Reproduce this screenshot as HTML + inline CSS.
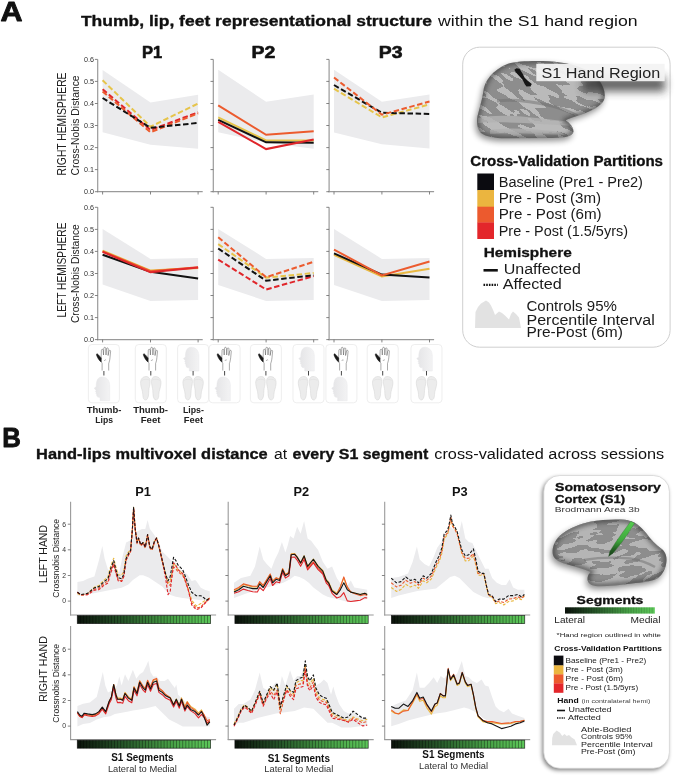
<!DOCTYPE html>
<html><head><meta charset="utf-8"><style>
html,body{margin:0;padding:0;background:#fff;}
body{width:685px;height:776px;overflow:hidden;font-family:"Liberation Sans", sans-serif;}
svg{display:block;will-change:transform;}
svg text{font-family:"Liberation Sans", sans-serif;}
</style></head><body>
<svg width="685" height="776" viewBox="0 0 685 776">
<rect width="685" height="776" fill="#fff"/>
<text x="0.6" y="21.0" font-size="28" font-weight="bold" text-anchor="start" fill="#111" stroke="#111" stroke-width="0.9" stroke-linejoin="round" textLength="22.0" lengthAdjust="spacingAndGlyphs" >A</text>
<text x="80.9" y="25.9" font-size="15.2" font-weight="bold" text-anchor="start" fill="#111" stroke="#111" stroke-width="0.35" stroke-linejoin="round" textLength="351.2" lengthAdjust="spacingAndGlyphs" >Thumb, lip, feet representational structure</text>
<text x="438.0" y="25.9" font-size="15.5" font-weight="normal" text-anchor="start" fill="#111" textLength="199.6" lengthAdjust="spacingAndGlyphs" >within the S1 hand region</text>
<text x="152.1" y="57.9" font-size="16.8" font-weight="bold" text-anchor="middle" fill="#111" stroke="#111" stroke-width="0.6" stroke-linejoin="round" textLength="20.2" lengthAdjust="spacingAndGlyphs" >P1</text>
<text x="263.4" y="57.9" font-size="16.8" font-weight="bold" text-anchor="middle" fill="#111" stroke="#111" stroke-width="0.6" stroke-linejoin="round" textLength="23.8" lengthAdjust="spacingAndGlyphs" >P2</text>
<text x="390.7" y="57.9" font-size="16.8" font-weight="bold" text-anchor="middle" fill="#111" stroke="#111" stroke-width="0.6" stroke-linejoin="round" textLength="23.7" lengthAdjust="spacingAndGlyphs" >P3</text>
<polygon points="102.6,70.0 150.5,102.4 198.1,94.7 198.1,148.7 150.5,144.7 102.6,132.2" fill="#ebebed"/>
<polyline points="102.6,80.3 150.5,126.7 198.1,103.5" fill="none" stroke="#e6c44a" stroke-width="2" stroke-dasharray="5.5 2.6"/>
<polyline points="102.6,89.2 150.5,130.0 198.1,112.3" fill="none" stroke="#e0262b" stroke-width="2" stroke-dasharray="5.5 2.6"/>
<polyline points="102.6,91.4 150.5,132.2 198.1,113.4" fill="none" stroke="#ec5b2e" stroke-width="2" stroke-dasharray="5.5 2.6"/>
<polyline points="102.6,98.0 150.5,127.8 198.1,122.9" fill="none" stroke="#111111" stroke-width="2" stroke-dasharray="5.5 2.6"/>
<line x1="97.7" y1="59.4" x2="97.7" y2="192.3" stroke="#9a9a9a" stroke-width="1.2"/>
<line x1="97.1" y1="191.7" x2="202.7" y2="191.7" stroke="#9a9a9a" stroke-width="1.2"/>
<line x1="94.9" y1="191.7" x2="97.7" y2="191.7" stroke="#666" stroke-width="0.8"/>
<text x="93.9" y="194.3" font-size="7.5" font-weight="normal" text-anchor="end" fill="#333" textLength="10.0" lengthAdjust="spacingAndGlyphs" >0.0</text>
<line x1="94.9" y1="169.6" x2="97.7" y2="169.6" stroke="#666" stroke-width="0.8"/>
<text x="93.9" y="172.2" font-size="7.5" font-weight="normal" text-anchor="end" fill="#333" textLength="10.0" lengthAdjust="spacingAndGlyphs" >0.1</text>
<line x1="94.9" y1="147.6" x2="97.7" y2="147.6" stroke="#666" stroke-width="0.8"/>
<text x="93.9" y="150.2" font-size="7.5" font-weight="normal" text-anchor="end" fill="#333" textLength="10.0" lengthAdjust="spacingAndGlyphs" >0.2</text>
<line x1="94.9" y1="125.5" x2="97.7" y2="125.5" stroke="#666" stroke-width="0.8"/>
<text x="93.9" y="128.2" font-size="7.5" font-weight="normal" text-anchor="end" fill="#333" textLength="10.0" lengthAdjust="spacingAndGlyphs" >0.3</text>
<line x1="94.9" y1="103.5" x2="97.7" y2="103.5" stroke="#666" stroke-width="0.8"/>
<text x="93.9" y="106.1" font-size="7.5" font-weight="normal" text-anchor="end" fill="#333" textLength="10.0" lengthAdjust="spacingAndGlyphs" >0.4</text>
<line x1="94.9" y1="81.4" x2="97.7" y2="81.4" stroke="#666" stroke-width="0.8"/>
<text x="93.9" y="84.0" font-size="7.5" font-weight="normal" text-anchor="end" fill="#333" textLength="10.0" lengthAdjust="spacingAndGlyphs" >0.5</text>
<line x1="94.9" y1="59.4" x2="97.7" y2="59.4" stroke="#666" stroke-width="0.8"/>
<text x="93.9" y="62.0" font-size="7.5" font-weight="normal" text-anchor="end" fill="#333" textLength="10.0" lengthAdjust="spacingAndGlyphs" >0.6</text>
<line x1="102.6" y1="191.7" x2="102.6" y2="194.5" stroke="#666" stroke-width="0.8"/>
<line x1="150.5" y1="191.7" x2="150.5" y2="194.5" stroke="#666" stroke-width="0.8"/>
<line x1="198.1" y1="191.7" x2="198.1" y2="194.5" stroke="#666" stroke-width="0.8"/>
<polygon points="218.2,69.8 266.1,101.7 313.7,94.5 313.7,148.7 266.1,142.7 218.2,132.2" fill="#ebebed"/>
<polyline points="218.2,105.3 266.1,134.8 313.7,131.3" fill="none" stroke="#ec5b2e" stroke-width="2"/>
<polyline points="218.2,117.4 266.1,140.5 313.7,140.5" fill="none" stroke="#e6c44a" stroke-width="2"/>
<polyline points="218.2,119.8 266.1,142.3 313.7,142.7" fill="none" stroke="#111111" stroke-width="2"/>
<polyline points="218.2,121.8 266.1,149.1 313.7,139.4" fill="none" stroke="#e0262b" stroke-width="2"/>
<line x1="213.3" y1="59.4" x2="213.3" y2="192.3" stroke="#9a9a9a" stroke-width="1.2"/>
<line x1="212.7" y1="191.7" x2="318.3" y2="191.7" stroke="#9a9a9a" stroke-width="1.2"/>
<line x1="210.5" y1="191.7" x2="213.3" y2="191.7" stroke="#666" stroke-width="0.8"/>
<line x1="210.5" y1="169.6" x2="213.3" y2="169.6" stroke="#666" stroke-width="0.8"/>
<line x1="210.5" y1="147.6" x2="213.3" y2="147.6" stroke="#666" stroke-width="0.8"/>
<line x1="210.5" y1="125.5" x2="213.3" y2="125.5" stroke="#666" stroke-width="0.8"/>
<line x1="210.5" y1="103.5" x2="213.3" y2="103.5" stroke="#666" stroke-width="0.8"/>
<line x1="210.5" y1="81.4" x2="213.3" y2="81.4" stroke="#666" stroke-width="0.8"/>
<line x1="210.5" y1="59.4" x2="213.3" y2="59.4" stroke="#666" stroke-width="0.8"/>
<line x1="218.2" y1="191.7" x2="218.2" y2="194.5" stroke="#666" stroke-width="0.8"/>
<line x1="266.1" y1="191.7" x2="266.1" y2="194.5" stroke="#666" stroke-width="0.8"/>
<line x1="313.7" y1="191.7" x2="313.7" y2="194.5" stroke="#666" stroke-width="0.8"/>
<polygon points="334.0,69.8 381.9,101.7 429.5,94.5 429.5,148.5 381.9,144.3 334.0,132.6" fill="#ebebed"/>
<polyline points="334.0,88.7 381.9,117.4 429.5,104.4" fill="none" stroke="#e6c44a" stroke-width="2" stroke-dasharray="5.5 2.6"/>
<polyline points="334.0,85.0 381.9,112.8 429.5,113.9" fill="none" stroke="#111111" stroke-width="2" stroke-dasharray="5.5 2.6"/>
<polyline points="334.0,77.5 381.9,114.7 429.5,101.5" fill="none" stroke="#ec5b2e" stroke-width="2" stroke-dasharray="5.5 2.6"/>
<line x1="329.1" y1="59.4" x2="329.1" y2="192.3" stroke="#9a9a9a" stroke-width="1.2"/>
<line x1="328.5" y1="191.7" x2="434.1" y2="191.7" stroke="#9a9a9a" stroke-width="1.2"/>
<line x1="326.3" y1="191.7" x2="329.1" y2="191.7" stroke="#666" stroke-width="0.8"/>
<line x1="326.3" y1="169.6" x2="329.1" y2="169.6" stroke="#666" stroke-width="0.8"/>
<line x1="326.3" y1="147.6" x2="329.1" y2="147.6" stroke="#666" stroke-width="0.8"/>
<line x1="326.3" y1="125.5" x2="329.1" y2="125.5" stroke="#666" stroke-width="0.8"/>
<line x1="326.3" y1="103.5" x2="329.1" y2="103.5" stroke="#666" stroke-width="0.8"/>
<line x1="326.3" y1="81.4" x2="329.1" y2="81.4" stroke="#666" stroke-width="0.8"/>
<line x1="326.3" y1="59.4" x2="329.1" y2="59.4" stroke="#666" stroke-width="0.8"/>
<line x1="334.0" y1="191.7" x2="334.0" y2="194.5" stroke="#666" stroke-width="0.8"/>
<line x1="381.9" y1="191.7" x2="381.9" y2="194.5" stroke="#666" stroke-width="0.8"/>
<line x1="429.5" y1="191.7" x2="429.5" y2="194.5" stroke="#666" stroke-width="0.8"/>
<polygon points="102.6,228.9 150.5,258.9 198.1,258.0 198.1,299.9 150.5,301.0 102.6,284.5" fill="#ebebed"/>
<polyline points="102.6,254.7 150.5,271.7 198.1,278.5" fill="none" stroke="#111111" stroke-width="2"/>
<polyline points="102.6,250.7 150.5,270.6 198.1,267.9" fill="none" stroke="#e9b841" stroke-width="2"/>
<polyline points="102.6,251.4 150.5,271.2 198.1,267.3" fill="none" stroke="#ec5b2e" stroke-width="2"/>
<polyline points="102.6,251.8 150.5,272.3 198.1,267.5" fill="none" stroke="#e0262b" stroke-width="2"/>
<line x1="97.7" y1="207.3" x2="97.7" y2="340.2" stroke="#9a9a9a" stroke-width="1.2"/>
<line x1="97.1" y1="339.6" x2="202.7" y2="339.6" stroke="#9a9a9a" stroke-width="1.2"/>
<line x1="94.9" y1="339.6" x2="97.7" y2="339.6" stroke="#666" stroke-width="0.8"/>
<text x="93.9" y="342.2" font-size="7.5" font-weight="normal" text-anchor="end" fill="#333" textLength="10.0" lengthAdjust="spacingAndGlyphs" >0.0</text>
<line x1="94.9" y1="317.6" x2="97.7" y2="317.6" stroke="#666" stroke-width="0.8"/>
<text x="93.9" y="320.2" font-size="7.5" font-weight="normal" text-anchor="end" fill="#333" textLength="10.0" lengthAdjust="spacingAndGlyphs" >0.1</text>
<line x1="94.9" y1="295.5" x2="97.7" y2="295.5" stroke="#666" stroke-width="0.8"/>
<text x="93.9" y="298.1" font-size="7.5" font-weight="normal" text-anchor="end" fill="#333" textLength="10.0" lengthAdjust="spacingAndGlyphs" >0.2</text>
<line x1="94.9" y1="273.5" x2="97.7" y2="273.5" stroke="#666" stroke-width="0.8"/>
<text x="93.9" y="276.1" font-size="7.5" font-weight="normal" text-anchor="end" fill="#333" textLength="10.0" lengthAdjust="spacingAndGlyphs" >0.3</text>
<line x1="94.9" y1="251.4" x2="97.7" y2="251.4" stroke="#666" stroke-width="0.8"/>
<text x="93.9" y="254.0" font-size="7.5" font-weight="normal" text-anchor="end" fill="#333" textLength="10.0" lengthAdjust="spacingAndGlyphs" >0.4</text>
<line x1="94.9" y1="229.4" x2="97.7" y2="229.4" stroke="#666" stroke-width="0.8"/>
<text x="93.9" y="232.0" font-size="7.5" font-weight="normal" text-anchor="end" fill="#333" textLength="10.0" lengthAdjust="spacingAndGlyphs" >0.5</text>
<line x1="94.9" y1="207.3" x2="97.7" y2="207.3" stroke="#666" stroke-width="0.8"/>
<text x="93.9" y="209.9" font-size="7.5" font-weight="normal" text-anchor="end" fill="#333" textLength="10.0" lengthAdjust="spacingAndGlyphs" >0.6</text>
<line x1="102.6" y1="339.6" x2="102.6" y2="342.4" stroke="#666" stroke-width="0.8"/>
<line x1="150.5" y1="339.6" x2="150.5" y2="342.4" stroke="#666" stroke-width="0.8"/>
<line x1="198.1" y1="339.6" x2="198.1" y2="342.4" stroke="#666" stroke-width="0.8"/>
<polygon points="218.2,228.9 266.1,258.9 313.7,258.0 313.7,299.9 266.1,301.0 218.2,284.9" fill="#ebebed"/>
<polyline points="218.2,259.6 266.1,289.5 313.7,276.1" fill="none" stroke="#e0262b" stroke-width="2" stroke-dasharray="5.5 2.6"/>
<polyline points="218.2,248.5 266.1,280.7 313.7,275.2" fill="none" stroke="#111111" stroke-width="2" stroke-dasharray="5.5 2.6"/>
<polyline points="218.2,244.1 266.1,277.6 313.7,273.0" fill="none" stroke="#e6c44a" stroke-width="2" stroke-dasharray="5.5 2.6"/>
<polyline points="218.2,237.3 266.1,277.2 313.7,261.8" fill="none" stroke="#ec5b2e" stroke-width="2" stroke-dasharray="5.5 2.6"/>
<line x1="213.3" y1="207.3" x2="213.3" y2="340.2" stroke="#9a9a9a" stroke-width="1.2"/>
<line x1="212.7" y1="339.6" x2="318.3" y2="339.6" stroke="#9a9a9a" stroke-width="1.2"/>
<line x1="210.5" y1="339.6" x2="213.3" y2="339.6" stroke="#666" stroke-width="0.8"/>
<line x1="210.5" y1="317.6" x2="213.3" y2="317.6" stroke="#666" stroke-width="0.8"/>
<line x1="210.5" y1="295.5" x2="213.3" y2="295.5" stroke="#666" stroke-width="0.8"/>
<line x1="210.5" y1="273.5" x2="213.3" y2="273.5" stroke="#666" stroke-width="0.8"/>
<line x1="210.5" y1="251.4" x2="213.3" y2="251.4" stroke="#666" stroke-width="0.8"/>
<line x1="210.5" y1="229.4" x2="213.3" y2="229.4" stroke="#666" stroke-width="0.8"/>
<line x1="210.5" y1="207.3" x2="213.3" y2="207.3" stroke="#666" stroke-width="0.8"/>
<line x1="218.2" y1="339.6" x2="218.2" y2="342.4" stroke="#666" stroke-width="0.8"/>
<line x1="266.1" y1="339.6" x2="266.1" y2="342.4" stroke="#666" stroke-width="0.8"/>
<line x1="313.7" y1="339.6" x2="313.7" y2="342.4" stroke="#666" stroke-width="0.8"/>
<polygon points="334.0,228.9 381.9,258.9 429.5,258.0 429.5,299.9 381.9,301.0 334.0,284.9" fill="#ebebed"/>
<polyline points="334.0,254.9 381.9,276.5 429.5,268.8" fill="none" stroke="#e9b841" stroke-width="2"/>
<polyline points="334.0,253.4 381.9,274.6 429.5,277.6" fill="none" stroke="#111111" stroke-width="2"/>
<polyline points="334.0,249.6 381.9,275.4 429.5,261.5" fill="none" stroke="#ec5b2e" stroke-width="2"/>
<line x1="329.1" y1="207.3" x2="329.1" y2="340.2" stroke="#9a9a9a" stroke-width="1.2"/>
<line x1="328.5" y1="339.6" x2="434.1" y2="339.6" stroke="#9a9a9a" stroke-width="1.2"/>
<line x1="326.3" y1="339.6" x2="329.1" y2="339.6" stroke="#666" stroke-width="0.8"/>
<line x1="326.3" y1="317.6" x2="329.1" y2="317.6" stroke="#666" stroke-width="0.8"/>
<line x1="326.3" y1="295.5" x2="329.1" y2="295.5" stroke="#666" stroke-width="0.8"/>
<line x1="326.3" y1="273.5" x2="329.1" y2="273.5" stroke="#666" stroke-width="0.8"/>
<line x1="326.3" y1="251.4" x2="329.1" y2="251.4" stroke="#666" stroke-width="0.8"/>
<line x1="326.3" y1="229.4" x2="329.1" y2="229.4" stroke="#666" stroke-width="0.8"/>
<line x1="326.3" y1="207.3" x2="329.1" y2="207.3" stroke="#666" stroke-width="0.8"/>
<line x1="334.0" y1="339.6" x2="334.0" y2="342.4" stroke="#666" stroke-width="0.8"/>
<line x1="381.9" y1="339.6" x2="381.9" y2="342.4" stroke="#666" stroke-width="0.8"/>
<line x1="429.5" y1="339.6" x2="429.5" y2="342.4" stroke="#666" stroke-width="0.8"/>
<text x="0" y="0" font-size="12" font-weight="normal" text-anchor="middle" fill="#222" transform="translate(66.4,124.0) rotate(-90)" textLength="102.9" lengthAdjust="spacingAndGlyphs">RIGHT HEMISPHERE</text>
<text x="0" y="0" font-size="10.3" font-weight="normal" text-anchor="middle" fill="#222" transform="translate(79.4,125.4) rotate(-90)" textLength="100.0" lengthAdjust="spacingAndGlyphs">Cross-Nobis Distance</text>
<text x="0" y="0" font-size="12" font-weight="normal" text-anchor="middle" fill="#222" transform="translate(66.4,270.0) rotate(-90)" textLength="95.0" lengthAdjust="spacingAndGlyphs">LEFT HEMISPHERE</text>
<text x="0" y="0" font-size="10.3" font-weight="normal" text-anchor="middle" fill="#222" transform="translate(79.4,273.7) rotate(-90)" textLength="98.8" lengthAdjust="spacingAndGlyphs">Cross-Nobis Distance</text>
<defs><linearGradient id="faceG" x1="0" x2="1" y1="0" y2="0"><stop offset="0" stop-color="#e4e4e6"/><stop offset="1" stop-color="#f3f3f4"/></linearGradient></defs>
<rect x="88.4" y="344.5" width="31" height="58.3" rx="3.5" fill="#fff" stroke="#e6e6e6" stroke-width="0.7"/>
<g transform="translate(96.1,347.0)" fill="#fff" stroke="#444" stroke-width="0.45" stroke-linejoin="round"><path d="M6,23.5 L6,16.5 C5,14.5 4.6,12.5 5,10.5 L5.3,3.2 C5.4,2 7,2 7.1,3.2 L7.4,8 L7.7,1.2 C7.8,0 9.5,0 9.6,1.2 L9.9,8 L10.4,1.8 C10.5,0.6 12.1,0.6 12.2,1.8 L12,8.5 L12.9,4 C13.1,2.9 14.6,3.1 14.5,4.3 L13.9,10.5 C13.7,13 13.2,14.8 12.6,16.5 L12.6,23.5" /><path d="M5.2,11 C3.8,9.4 2.4,7.6 1.4,6.9 C0.6,6.5 0.1,7.3 0.5,8.4 C1.4,10.8 2.8,13.4 5,15 Z" fill="#1a1a1a" stroke="#111"/><path d="M8,14 C8.5,13 9.5,12.5 10,13.2" fill="none" stroke-width="0.4"/></g>
<line x1="103.9" y1="371" x2="103.9" y2="375.5" stroke="#333" stroke-width="0.9"/>
<g transform="translate(92.9,377.0)"><path d="M8.5,0 C13.5,-0.3 16.8,3 16.8,8.5 L16.8,23.8 L7.2,23.8 L7.2,20.5 C5.5,20.6 4,20 3.8,18.6 L3.8,17 L2.8,16.4 L3.4,15.4 L2.5,14.5 L3.2,13.4 L1.3,11.2 L3.3,9.6 C3.2,4.5 4.5,0.3 8.5,0 Z" fill="url(#faceG)" stroke="#e6e6e8" stroke-width="0.4"/></g>
<rect x="135.3" y="344.5" width="31" height="58.3" rx="3.5" fill="#fff" stroke="#e6e6e6" stroke-width="0.7"/>
<g transform="translate(143.0,347.0)" fill="#fff" stroke="#444" stroke-width="0.45" stroke-linejoin="round"><path d="M6,23.5 L6,16.5 C5,14.5 4.6,12.5 5,10.5 L5.3,3.2 C5.4,2 7,2 7.1,3.2 L7.4,8 L7.7,1.2 C7.8,0 9.5,0 9.6,1.2 L9.9,8 L10.4,1.8 C10.5,0.6 12.1,0.6 12.2,1.8 L12,8.5 L12.9,4 C13.1,2.9 14.6,3.1 14.5,4.3 L13.9,10.5 C13.7,13 13.2,14.8 12.6,16.5 L12.6,23.5" /><path d="M5.2,11 C3.8,9.4 2.4,7.6 1.4,6.9 C0.6,6.5 0.1,7.3 0.5,8.4 C1.4,10.8 2.8,13.4 5,15 Z" fill="#1a1a1a" stroke="#111"/><path d="M8,14 C8.5,13 9.5,12.5 10,13.2" fill="none" stroke-width="0.4"/></g>
<line x1="150.8" y1="371" x2="150.8" y2="375.5" stroke="#333" stroke-width="0.9"/>
<g transform="translate(139.8,375.5)" fill="#ececec" stroke="#d2d2d2" stroke-width="0.5"><path d="M6.5,1 C9,1 10.3,3 10.3,6 C10.3,9.5 9.2,12 9,15 C8.8,19 9,22.5 6.5,24.5 C4,24.8 3,22.5 3,19 C3,15.5 1,12 0.8,8 C0.6,4 2.5,1 6.5,1 Z"/><path d="M15.5,1 C13,1 11.7,3 11.7,6 C11.7,9.5 12.8,12 13,15 C13.2,19 13,22.5 15.5,24.5 C18,24.8 19,22.5 19,19 C19,15.5 21,12 21.2,8 C21.4,4 19.5,1 15.5,1 Z"/><path d="M2,5 C4,3.5 7,3.5 9.5,4.5 M12.5,4.5 C15,3.5 18,3.5 20,5" fill="none" stroke="#d8d8d8" stroke-width="0.4"/></g>
<rect x="177.6" y="344.5" width="31" height="58.3" rx="3.5" fill="#fff" stroke="#e6e6e6" stroke-width="0.7"/>
<g transform="translate(182.1,347.3)"><path d="M8.5,0 C13.5,-0.3 16.8,3 16.8,8.5 L16.8,23.8 L7.2,23.8 L7.2,20.5 C5.5,20.6 4,20 3.8,18.6 L3.8,17 L2.8,16.4 L3.4,15.4 L2.5,14.5 L3.2,13.4 L1.3,11.2 L3.3,9.6 C3.2,4.5 4.5,0.3 8.5,0 Z" fill="url(#faceG)" stroke="#e6e6e8" stroke-width="0.4"/></g>
<line x1="193.1" y1="371" x2="193.1" y2="375.5" stroke="#333" stroke-width="0.9"/>
<g transform="translate(182.1,375.5)" fill="#ececec" stroke="#d2d2d2" stroke-width="0.5"><path d="M6.5,1 C9,1 10.3,3 10.3,6 C10.3,9.5 9.2,12 9,15 C8.8,19 9,22.5 6.5,24.5 C4,24.8 3,22.5 3,19 C3,15.5 1,12 0.8,8 C0.6,4 2.5,1 6.5,1 Z"/><path d="M15.5,1 C13,1 11.7,3 11.7,6 C11.7,9.5 12.8,12 13,15 C13.2,19 13,22.5 15.5,24.5 C18,24.8 19,22.5 19,19 C19,15.5 21,12 21.2,8 C21.4,4 19.5,1 15.5,1 Z"/><path d="M2,5 C4,3.5 7,3.5 9.5,4.5 M12.5,4.5 C15,3.5 18,3.5 20,5" fill="none" stroke="#d8d8d8" stroke-width="0.4"/></g>
<rect x="209.1" y="344.5" width="31" height="58.3" rx="3.5" fill="#fff" stroke="#e6e6e6" stroke-width="0.7"/>
<g transform="translate(216.8,347.0)" fill="#fff" stroke="#444" stroke-width="0.45" stroke-linejoin="round"><path d="M6,23.5 L6,16.5 C5,14.5 4.6,12.5 5,10.5 L5.3,3.2 C5.4,2 7,2 7.1,3.2 L7.4,8 L7.7,1.2 C7.8,0 9.5,0 9.6,1.2 L9.9,8 L10.4,1.8 C10.5,0.6 12.1,0.6 12.2,1.8 L12,8.5 L12.9,4 C13.1,2.9 14.6,3.1 14.5,4.3 L13.9,10.5 C13.7,13 13.2,14.8 12.6,16.5 L12.6,23.5" /><path d="M5.2,11 C3.8,9.4 2.4,7.6 1.4,6.9 C0.6,6.5 0.1,7.3 0.5,8.4 C1.4,10.8 2.8,13.4 5,15 Z" fill="#1a1a1a" stroke="#111"/><path d="M8,14 C8.5,13 9.5,12.5 10,13.2" fill="none" stroke-width="0.4"/></g>
<line x1="224.6" y1="371" x2="224.6" y2="375.5" stroke="#333" stroke-width="0.9"/>
<g transform="translate(213.6,377.0)"><path d="M8.5,0 C13.5,-0.3 16.8,3 16.8,8.5 L16.8,23.8 L7.2,23.8 L7.2,20.5 C5.5,20.6 4,20 3.8,18.6 L3.8,17 L2.8,16.4 L3.4,15.4 L2.5,14.5 L3.2,13.4 L1.3,11.2 L3.3,9.6 C3.2,4.5 4.5,0.3 8.5,0 Z" fill="url(#faceG)" stroke="#e6e6e8" stroke-width="0.4"/></g>
<rect x="250.4" y="344.5" width="31" height="58.3" rx="3.5" fill="#fff" stroke="#e6e6e6" stroke-width="0.7"/>
<g transform="translate(258.1,347.0)" fill="#fff" stroke="#444" stroke-width="0.45" stroke-linejoin="round"><path d="M6,23.5 L6,16.5 C5,14.5 4.6,12.5 5,10.5 L5.3,3.2 C5.4,2 7,2 7.1,3.2 L7.4,8 L7.7,1.2 C7.8,0 9.5,0 9.6,1.2 L9.9,8 L10.4,1.8 C10.5,0.6 12.1,0.6 12.2,1.8 L12,8.5 L12.9,4 C13.1,2.9 14.6,3.1 14.5,4.3 L13.9,10.5 C13.7,13 13.2,14.8 12.6,16.5 L12.6,23.5" /><path d="M5.2,11 C3.8,9.4 2.4,7.6 1.4,6.9 C0.6,6.5 0.1,7.3 0.5,8.4 C1.4,10.8 2.8,13.4 5,15 Z" fill="#1a1a1a" stroke="#111"/><path d="M8,14 C8.5,13 9.5,12.5 10,13.2" fill="none" stroke-width="0.4"/></g>
<line x1="265.9" y1="371" x2="265.9" y2="375.5" stroke="#333" stroke-width="0.9"/>
<g transform="translate(254.9,375.5)" fill="#ececec" stroke="#d2d2d2" stroke-width="0.5"><path d="M6.5,1 C9,1 10.3,3 10.3,6 C10.3,9.5 9.2,12 9,15 C8.8,19 9,22.5 6.5,24.5 C4,24.8 3,22.5 3,19 C3,15.5 1,12 0.8,8 C0.6,4 2.5,1 6.5,1 Z"/><path d="M15.5,1 C13,1 11.7,3 11.7,6 C11.7,9.5 12.8,12 13,15 C13.2,19 13,22.5 15.5,24.5 C18,24.8 19,22.5 19,19 C19,15.5 21,12 21.2,8 C21.4,4 19.5,1 15.5,1 Z"/><path d="M2,5 C4,3.5 7,3.5 9.5,4.5 M12.5,4.5 C15,3.5 18,3.5 20,5" fill="none" stroke="#d8d8d8" stroke-width="0.4"/></g>
<rect x="293.0" y="344.5" width="31" height="58.3" rx="3.5" fill="#fff" stroke="#e6e6e6" stroke-width="0.7"/>
<g transform="translate(297.5,347.3)"><path d="M8.5,0 C13.5,-0.3 16.8,3 16.8,8.5 L16.8,23.8 L7.2,23.8 L7.2,20.5 C5.5,20.6 4,20 3.8,18.6 L3.8,17 L2.8,16.4 L3.4,15.4 L2.5,14.5 L3.2,13.4 L1.3,11.2 L3.3,9.6 C3.2,4.5 4.5,0.3 8.5,0 Z" fill="url(#faceG)" stroke="#e6e6e8" stroke-width="0.4"/></g>
<line x1="308.5" y1="371" x2="308.5" y2="375.5" stroke="#333" stroke-width="0.9"/>
<g transform="translate(297.5,375.5)" fill="#ececec" stroke="#d2d2d2" stroke-width="0.5"><path d="M6.5,1 C9,1 10.3,3 10.3,6 C10.3,9.5 9.2,12 9,15 C8.8,19 9,22.5 6.5,24.5 C4,24.8 3,22.5 3,19 C3,15.5 1,12 0.8,8 C0.6,4 2.5,1 6.5,1 Z"/><path d="M15.5,1 C13,1 11.7,3 11.7,6 C11.7,9.5 12.8,12 13,15 C13.2,19 13,22.5 15.5,24.5 C18,24.8 19,22.5 19,19 C19,15.5 21,12 21.2,8 C21.4,4 19.5,1 15.5,1 Z"/><path d="M2,5 C4,3.5 7,3.5 9.5,4.5 M12.5,4.5 C15,3.5 18,3.5 20,5" fill="none" stroke="#d8d8d8" stroke-width="0.4"/></g>
<rect x="325.9" y="344.5" width="31" height="58.3" rx="3.5" fill="#fff" stroke="#e6e6e6" stroke-width="0.7"/>
<g transform="translate(333.6,347.0)" fill="#fff" stroke="#444" stroke-width="0.45" stroke-linejoin="round"><path d="M6,23.5 L6,16.5 C5,14.5 4.6,12.5 5,10.5 L5.3,3.2 C5.4,2 7,2 7.1,3.2 L7.4,8 L7.7,1.2 C7.8,0 9.5,0 9.6,1.2 L9.9,8 L10.4,1.8 C10.5,0.6 12.1,0.6 12.2,1.8 L12,8.5 L12.9,4 C13.1,2.9 14.6,3.1 14.5,4.3 L13.9,10.5 C13.7,13 13.2,14.8 12.6,16.5 L12.6,23.5" /><path d="M5.2,11 C3.8,9.4 2.4,7.6 1.4,6.9 C0.6,6.5 0.1,7.3 0.5,8.4 C1.4,10.8 2.8,13.4 5,15 Z" fill="#1a1a1a" stroke="#111"/><path d="M8,14 C8.5,13 9.5,12.5 10,13.2" fill="none" stroke-width="0.4"/></g>
<line x1="341.4" y1="371" x2="341.4" y2="375.5" stroke="#333" stroke-width="0.9"/>
<g transform="translate(330.4,377.0)"><path d="M8.5,0 C13.5,-0.3 16.8,3 16.8,8.5 L16.8,23.8 L7.2,23.8 L7.2,20.5 C5.5,20.6 4,20 3.8,18.6 L3.8,17 L2.8,16.4 L3.4,15.4 L2.5,14.5 L3.2,13.4 L1.3,11.2 L3.3,9.6 C3.2,4.5 4.5,0.3 8.5,0 Z" fill="url(#faceG)" stroke="#e6e6e8" stroke-width="0.4"/></g>
<rect x="367.2" y="344.5" width="31" height="58.3" rx="3.5" fill="#fff" stroke="#e6e6e6" stroke-width="0.7"/>
<g transform="translate(374.9,347.0)" fill="#fff" stroke="#444" stroke-width="0.45" stroke-linejoin="round"><path d="M6,23.5 L6,16.5 C5,14.5 4.6,12.5 5,10.5 L5.3,3.2 C5.4,2 7,2 7.1,3.2 L7.4,8 L7.7,1.2 C7.8,0 9.5,0 9.6,1.2 L9.9,8 L10.4,1.8 C10.5,0.6 12.1,0.6 12.2,1.8 L12,8.5 L12.9,4 C13.1,2.9 14.6,3.1 14.5,4.3 L13.9,10.5 C13.7,13 13.2,14.8 12.6,16.5 L12.6,23.5" /><path d="M5.2,11 C3.8,9.4 2.4,7.6 1.4,6.9 C0.6,6.5 0.1,7.3 0.5,8.4 C1.4,10.8 2.8,13.4 5,15 Z" fill="#1a1a1a" stroke="#111"/><path d="M8,14 C8.5,13 9.5,12.5 10,13.2" fill="none" stroke-width="0.4"/></g>
<line x1="382.7" y1="371" x2="382.7" y2="375.5" stroke="#333" stroke-width="0.9"/>
<g transform="translate(371.7,375.5)" fill="#ececec" stroke="#d2d2d2" stroke-width="0.5"><path d="M6.5,1 C9,1 10.3,3 10.3,6 C10.3,9.5 9.2,12 9,15 C8.8,19 9,22.5 6.5,24.5 C4,24.8 3,22.5 3,19 C3,15.5 1,12 0.8,8 C0.6,4 2.5,1 6.5,1 Z"/><path d="M15.5,1 C13,1 11.7,3 11.7,6 C11.7,9.5 12.8,12 13,15 C13.2,19 13,22.5 15.5,24.5 C18,24.8 19,22.5 19,19 C19,15.5 21,12 21.2,8 C21.4,4 19.5,1 15.5,1 Z"/><path d="M2,5 C4,3.5 7,3.5 9.5,4.5 M12.5,4.5 C15,3.5 18,3.5 20,5" fill="none" stroke="#d8d8d8" stroke-width="0.4"/></g>
<rect x="411.0" y="344.5" width="31" height="58.3" rx="3.5" fill="#fff" stroke="#e6e6e6" stroke-width="0.7"/>
<g transform="translate(415.5,347.3)"><path d="M8.5,0 C13.5,-0.3 16.8,3 16.8,8.5 L16.8,23.8 L7.2,23.8 L7.2,20.5 C5.5,20.6 4,20 3.8,18.6 L3.8,17 L2.8,16.4 L3.4,15.4 L2.5,14.5 L3.2,13.4 L1.3,11.2 L3.3,9.6 C3.2,4.5 4.5,0.3 8.5,0 Z" fill="url(#faceG)" stroke="#e6e6e8" stroke-width="0.4"/></g>
<line x1="426.5" y1="371" x2="426.5" y2="375.5" stroke="#333" stroke-width="0.9"/>
<g transform="translate(415.5,375.5)" fill="#ececec" stroke="#d2d2d2" stroke-width="0.5"><path d="M6.5,1 C9,1 10.3,3 10.3,6 C10.3,9.5 9.2,12 9,15 C8.8,19 9,22.5 6.5,24.5 C4,24.8 3,22.5 3,19 C3,15.5 1,12 0.8,8 C0.6,4 2.5,1 6.5,1 Z"/><path d="M15.5,1 C13,1 11.7,3 11.7,6 C11.7,9.5 12.8,12 13,15 C13.2,19 13,22.5 15.5,24.5 C18,24.8 19,22.5 19,19 C19,15.5 21,12 21.2,8 C21.4,4 19.5,1 15.5,1 Z"/><path d="M2,5 C4,3.5 7,3.5 9.5,4.5 M12.5,4.5 C15,3.5 18,3.5 20,5" fill="none" stroke="#d8d8d8" stroke-width="0.4"/></g>
<text x="104.1" y="413.1" font-size="9" font-weight="bold" text-anchor="middle" fill="#222" textLength="34.8" lengthAdjust="spacingAndGlyphs" >Thumb-</text>
<text x="104.1" y="423.0" font-size="9" font-weight="bold" text-anchor="middle" fill="#222" textLength="17.7" lengthAdjust="spacingAndGlyphs" >Lips</text>
<text x="150.6" y="413.1" font-size="9" font-weight="bold" text-anchor="middle" fill="#222" textLength="34.9" lengthAdjust="spacingAndGlyphs" >Thumb-</text>
<text x="150.6" y="423.0" font-size="9" font-weight="bold" text-anchor="middle" fill="#222" textLength="19.7" lengthAdjust="spacingAndGlyphs" >Feet</text>
<text x="193.4" y="413.1" font-size="9" font-weight="bold" text-anchor="middle" fill="#222" textLength="21.0" lengthAdjust="spacingAndGlyphs" >Lips-</text>
<text x="193.4" y="423.0" font-size="9" font-weight="bold" text-anchor="middle" fill="#222" textLength="19.2" lengthAdjust="spacingAndGlyphs" >Feet</text>
<defs>
<filter id="blur05" x="-20%" y="-20%" width="140%" height="140%"><feGaussianBlur stdDeviation="0.5"/></filter>
<filter id="blur1" x="-20%" y="-20%" width="140%" height="140%"><feGaussianBlur stdDeviation="1"/></filter>
<filter id="blur2" x="-30%" y="-30%" width="160%" height="160%"><feGaussianBlur stdDeviation="2"/></filter>
<filter id="blur3" x="-30%" y="-30%" width="160%" height="160%"><feGaussianBlur stdDeviation="3"/></filter>
<filter id="blur4" x="-40%" y="-60%" width="180%" height="220%"><feGaussianBlur stdDeviation="4"/></filter>
<filter id="texA" x="0" y="0" width="100%" height="100%" filterUnits="userSpaceOnUse" color-interpolation-filters="sRGB">
  <feTurbulence type="fractalNoise" baseFrequency="0.042 0.15" numOctaves="2" seed="7" result="n"/>
  <feColorMatrix in="n" type="matrix" values="0 0 0 0 0.73  0 0 0 0 0.73  0 0 0 0 0.73  2.2 0 0 0 -0.66" result="c"/>
  <feComponentTransfer in="c"><feFuncA type="discrete" tableValues="0 1"/></feComponentTransfer>
</filter>
<filter id="texB" x="0" y="0" width="100%" height="100%" filterUnits="userSpaceOnUse" color-interpolation-filters="sRGB">
  <feTurbulence type="fractalNoise" baseFrequency="0.05 0.15" numOctaves="2" seed="11" result="n"/>
  <feColorMatrix in="n" type="matrix" values="0 0 0 0 0.71  0 0 0 0 0.71  0 0 0 0 0.71  2.2 0 0 0 -0.58" result="c"/>
  <feComponentTransfer in="c"><feFuncA type="discrete" tableValues="0 1"/></feComponentTransfer>
</filter>
<linearGradient id="segGrad" x1="0" x2="1" y1="0" y2="0">
  <stop offset="0" stop-color="#0b120b"/><stop offset="0.35" stop-color="#27582a"/><stop offset="0.7" stop-color="#47a046"/><stop offset="1" stop-color="#5dc85a"/>
</linearGradient>
<clipPath id="clipBrainA"><path id="brainApath" d="M483.3,92 C484,82 492,70 508,63.7 C520,60.5 545,60.5 560,62.5 C575,64 590,70 598,79 C604,86 606,94 604,100 C601,106 592,111 580,115 C574,117 567,119 565.7,120.5 C570,123 574,128 573.4,132 C572,136.5 566,137.8 552,138 L505,138.3 C495,138 486,137 481,133 C477,129 476.5,122 477.5,116 C479,110 481.5,102 483.3,92 Z"/></clipPath>
<clipPath id="clipBrainB"><path d="M552.6,553 C552,546 556,538 562,534 C570,528 580,524 590,521.8 C602,519.5 615,519 625,519.8 C635,521 641,527 646,533 C651,539.5 656,545 661,548.5 C665,551 667,556 666.5,561 C666,568 663,574 658,578 C652,581.5 642,582.5 632,583.5 C620,585 608,586.5 598,586.3 C591,586 587.5,583 587.5,579 C587.5,575 590,572.5 590.5,571.9 C585,569.5 575,566.5 566,564 C559,562 553,559 552.6,553 Z"/></clipPath>
</defs>
<rect x="462.7" y="47.2" width="207.4" height="300" rx="17" fill="#fff" stroke="#cfcfcf" stroke-width="1"/>
<path d="M483.3,92 C484,82 492,70 508,63.7 C520,60.5 545,60.5 560,62.5 C575,64 590,70 598,79 C604,86 606,94 604,100 C601,106 592,111 580,115 C574,117 567,119 565.7,120.5 C570,123 574,128 573.4,132 C572,136.5 566,137.8 552,138 L505,138.3 C495,138 486,137 481,133 C477,129 476.5,122 477.5,116 C479,110 481.5,102 483.3,92 Z" fill="#000" opacity="0.45" transform="translate(-1.5,3)" filter="url(#blur3)"/>
<path d="M483.3,92 C484,82 492,70 508,63.7 C520,60.5 545,60.5 560,62.5 C575,64 590,70 598,79 C604,86 606,94 604,100 C601,106 592,111 580,115 C574,117 567,119 565.7,120.5 C570,123 574,128 573.4,132 C572,136.5 566,137.8 552,138 L505,138.3 C495,138 486,137 481,133 C477,129 476.5,122 477.5,116 C479,110 481.5,102 483.3,92 Z" fill="#8d8d8d"/>
<g clip-path="url(#clipBrainA)"><g transform="rotate(28 540 100)"><rect x="440" y="20" width="200" height="160" filter="url(#texA)"/></g></g>
<g clip-path="url(#clipBrainA)"><path d="M478,118 C500,113 530,117 570,122 L575,126 C540,124 505,121 478,123 Z" fill="#b3b3b3" opacity="0.8"/><path d="M490,130 C510,127 535,129 560,132 L565,135 C540,134 515,132 490,134 Z" fill="#b0b0b0" opacity="0.8"/></g>
<g clip-path="url(#clipBrainA)"><path d="M497,101 C515,99 535,102 552,106 C562,108.5 570,112 578,116" fill="none" stroke="#707070" stroke-width="3" opacity="0.5" filter="url(#blur05)"/></g>
<g clip-path="url(#clipBrainA)"><path d="M483.3,92 C484,82 492,70 508,63.7 C520,60.5 545,60.5 560,62.5 C575,64 590,70 598,79 C604,86 606,94 604,100 C601,106 592,111 580,115 C574,117 567,119 565.7,120.5 C570,123 574,128 573.4,132 C572,136.5 566,137.8 552,138 L505,138.3 C495,138 486,137 481,133 C477,129 476.5,122 477.5,116 C479,110 481.5,102 483.3,92 Z" fill="none" stroke="#2a2a2a" stroke-width="5" opacity="0.55" filter="url(#blur2)"/></g>
<path d="M514.3,69.8 L516.5,68.2 L519.5,68.8 L522.5,73.5 L524.5,77.5 L527.5,80.5 L531.8,84 L530.5,86.3 L526.5,86.4 L524.8,84.2 L522.6,79.8 L519.2,76 L516,72.5 Z" fill="#151515"/>
<rect x="583" y="76.5" width="82" height="15" fill="#333" opacity="0.75" filter="url(#blur4)"/>
<rect x="536.3" y="63.8" width="128.4" height="17.4" fill="#f3f3f3" opacity="0.94"/>
<text x="541.6" y="77.5" font-size="15.5" font-weight="normal" text-anchor="start" fill="#222" textLength="118.6" lengthAdjust="spacingAndGlyphs" >S1 Hand Region</text>
<text x="470.3" y="166.0" font-size="13.8" font-weight="bold" text-anchor="start" fill="#111" stroke="#111" stroke-width="0.3" stroke-linejoin="round" textLength="192.7" lengthAdjust="spacingAndGlyphs" >Cross-Validation Partitions</text>
<rect x="477.3" y="173.5" width="16.7" height="16.8" fill="#0b0b10"/>
<rect x="477.3" y="190.0" width="16.7" height="17.0" fill="#ebb53f"/>
<rect x="477.3" y="206.7" width="16.7" height="16.1" fill="#ec5a2e"/>
<rect x="477.3" y="222.5" width="16.7" height="16.5" fill="#e3262b"/>
<text x="498.7" y="186.9" font-size="14" font-weight="normal" text-anchor="start" fill="#1a1a1a" textLength="144.3" lengthAdjust="spacingAndGlyphs" >Baseline (Pre1 - Pre2)</text>
<text x="498.7" y="203.0" font-size="14" font-weight="normal" text-anchor="start" fill="#1a1a1a" textLength="102.4" lengthAdjust="spacingAndGlyphs" >Pre - Post (3m)</text>
<text x="498.7" y="219.4" font-size="14" font-weight="normal" text-anchor="start" fill="#1a1a1a" textLength="103.0" lengthAdjust="spacingAndGlyphs" >Pre - Post (6m)</text>
<text x="498.7" y="235.6" font-size="14" font-weight="normal" text-anchor="start" fill="#1a1a1a" textLength="129.3" lengthAdjust="spacingAndGlyphs" >Pre - Post (1.5/5yrs)</text>
<text x="483.7" y="257.4" font-size="13.3" font-weight="bold" text-anchor="start" fill="#111" stroke="#111" stroke-width="0.3" stroke-linejoin="round" textLength="88.0" lengthAdjust="spacingAndGlyphs" >Hemisphere</text>
<line x1="483.5" y1="270.3" x2="497.8" y2="270.3" stroke="#111" stroke-width="2.6"/>
<text x="503.7" y="273.6" font-size="14" font-weight="normal" text-anchor="start" fill="#1a1a1a" textLength="77.2" lengthAdjust="spacingAndGlyphs" >Unaffected</text>
<line x1="483.5" y1="284.9" x2="497.8" y2="284.9" stroke="#111" stroke-width="2.4" stroke-dasharray="1.6 1.1"/>
<text x="502.7" y="288.6" font-size="14" font-weight="normal" text-anchor="start" fill="#1a1a1a" textLength="59.1" lengthAdjust="spacingAndGlyphs" >Affected</text>
<path d="M475,328 L475.5,312 L478,307 L481,303.6 L486,300.4 L489,302.5 L491,305.6 L493.5,311 L495,315 L499,311.6 L502,313 L505,315.6 L509,319.6 L511,314 L513,311.6 L516,314 L519,317.6 L521,328 Z" fill="#e2e2e2" filter="url(#blur05)"/>
<text x="526.5" y="311.1" font-size="14" font-weight="normal" text-anchor="start" fill="#1a1a1a" textLength="90.4" lengthAdjust="spacingAndGlyphs" >Controls 95%</text>
<text x="526.5" y="324.5" font-size="14" font-weight="normal" text-anchor="start" fill="#1a1a1a" textLength="128.3" lengthAdjust="spacingAndGlyphs" >Percentile Interval</text>
<text x="526.5" y="337.3" font-size="14" font-weight="normal" text-anchor="start" fill="#1a1a1a" textLength="96.4" lengthAdjust="spacingAndGlyphs" >Pre-Post (6m)</text>
<text x="2.3" y="446.6" font-size="27" font-weight="bold" text-anchor="start" fill="#111" stroke="#111" stroke-width="0.9" stroke-linejoin="round" textLength="18.6" lengthAdjust="spacingAndGlyphs" >B</text>
<text x="36.1" y="458.9" font-size="15.2" font-weight="bold" text-anchor="start" fill="#111" stroke="#111" stroke-width="0.35" stroke-linejoin="round" textLength="231.6" lengthAdjust="spacingAndGlyphs" >Hand-lips multivoxel distance</text>
<text x="274.0" y="458.9" font-size="15.5" font-weight="normal" text-anchor="start" fill="#111" textLength="13.1" lengthAdjust="spacingAndGlyphs" >at</text>
<text x="292.6" y="458.9" font-size="15.2" font-weight="bold" text-anchor="start" fill="#111" stroke="#111" stroke-width="0.35" stroke-linejoin="round" textLength="135.8" lengthAdjust="spacingAndGlyphs" >every S1 segment</text>
<text x="434.3" y="458.9" font-size="15.5" font-weight="normal" text-anchor="start" fill="#111" textLength="229.9" lengthAdjust="spacingAndGlyphs" >cross-validated across sessions</text>
<text x="143.0" y="496.4" font-size="12.8" font-weight="bold" text-anchor="middle" fill="#111" >P1</text>
<text x="301.3" y="496.4" font-size="12.8" font-weight="bold" text-anchor="middle" fill="#111" >P2</text>
<text x="459.9" y="496.4" font-size="12.8" font-weight="bold" text-anchor="middle" fill="#111" >P3</text>
<polygon points="77.4,582.1 83.1,581.0 87.6,578.7 94.4,576.5 98.9,560.6 102.3,545.9 104.6,558.4 108.0,569.7 113.7,569.7 119.3,571.9 122.7,556.1 126.1,542.5 130.6,540.3 132.9,535.7 137.4,531.2 141.9,528.9 145.3,528.9 147.6,519.9 149.9,528.9 153.3,533.5 157.8,540.3 162.3,551.6 166.8,556.1 171.4,560.6 175.9,562.9 180.4,569.7 187.2,574.2 191.7,581.0 195.1,579.9 196.3,581.0 200.8,587.8 205.3,590.0 209.8,591.2 209.8,600.2 200.8,600.2 191.7,599.1 182.7,598.0 175.9,596.8 169.1,594.6 162.3,586.6 155.5,582.1 148.7,577.6 143.1,575.3 139.7,575.3 132.9,579.9 128.4,584.4 121.6,587.8 110.3,590.0 98.9,592.3 87.6,594.6 77.4,595.7" fill="#ebebed"/>
<polyline points="77.4,593.4 80.8,595.3 87.6,593.5 94.4,587.1 98.9,585.5 103.5,580.6 108.0,576.8 110.3,567.5 113.7,558.2 115.9,567.0 118.2,574.7 121.6,575.5 123.8,570.8 126.1,555.8 128.4,552.1 130.6,549.6 132.4,528.8 133.6,507.4 135.2,528.9 137.0,542.5 138.5,538.0 140.8,544.8 143.1,542.5 145.3,547.0 147.6,534.6 149.9,547.0 152.1,549.3 154.4,541.4 156.6,538.0 158.9,545.9 162.3,560.6 165.7,574.2 168.0,582.7 170.2,581.6 173.6,563.3 175.9,565.9 178.1,569.7 180.4,571.7 182.7,573.6 184.9,579.0 188.3,588.9 191.7,600.2 196.3,605.9 200.8,603.6 204.2,601.1 206.4,600.2 209.8,598.0" fill="none" stroke="#e9b841" stroke-width="1.1" stroke-linejoin="round" stroke-dasharray="3 1.6"/>
<polyline points="77.4,592.3 80.8,594.8 87.6,594.1 94.4,589.0 98.9,588.1 103.5,583.9 108.0,580.8 110.3,571.9 113.7,562.9 115.9,571.9 118.2,579.9 121.6,581.0 123.8,576.2 126.1,560.2 128.4,555.4 130.6,551.8 132.4,530.1 133.6,508.6 135.2,530.1 137.0,543.7 138.5,539.1 140.8,545.9 143.1,543.7 145.3,548.2 147.6,535.7 149.9,548.2 152.1,550.4 154.4,542.5 156.6,539.1 158.9,547.0 162.3,561.8 165.7,575.3 168.0,584.7 170.2,585.2 173.6,567.0 175.9,568.9 178.1,571.9 180.4,573.6 182.7,575.3 184.9,580.4 188.3,590.3 191.7,602.5 196.3,608.1 200.8,607.0 204.2,603.2 206.4,601.4 209.8,598.0" fill="none" stroke="#ec5b2e" stroke-width="1.1" stroke-linejoin="round" stroke-dasharray="3 1.6"/>
<polyline points="77.4,592.3 80.8,595.0 87.6,594.8 94.4,590.1 98.9,589.6 103.5,585.7 108.0,582.9 110.3,574.2 113.7,564.6 115.9,573.3 118.2,580.8 121.6,581.4 123.8,576.5 126.1,560.1 128.4,555.0 130.6,551.0 132.4,529.1 133.6,507.4 135.2,528.9 137.0,542.5 138.5,538.0 140.8,544.8 143.1,542.5 145.3,547.0 147.6,534.6 149.9,547.0 152.1,549.3 154.4,541.4 156.6,538.0 158.9,545.9 162.3,560.6 165.7,578.7 168.0,594.6 170.2,591.5 173.6,562.9 175.9,565.7 178.1,569.7 180.4,571.7 182.7,573.6 184.9,579.0 188.3,590.0 191.7,604.8 196.3,609.7 200.8,608.1 204.2,604.0 206.4,602.0 209.8,598.0" fill="none" stroke="#e0262b" stroke-width="1.1" stroke-linejoin="round" stroke-dasharray="3 1.6"/>
<polyline points="77.4,592.3 80.8,594.6 87.6,593.4 94.4,587.8 98.9,586.6 103.5,582.1 108.0,578.7 110.3,569.7 113.7,560.6 115.9,569.7 118.2,577.6 121.6,578.7 123.8,574.2 126.1,558.4 128.4,553.8 130.6,550.4 132.4,528.9 133.6,507.4 135.2,528.9 137.0,542.5 138.5,538.0 140.8,544.8 143.1,542.5 145.3,547.0 147.6,534.6 149.9,547.0 152.1,549.3 154.4,541.4 156.6,538.0 158.9,545.9 162.3,560.6 165.7,574.2 168.0,581.0 170.2,576.5 173.6,557.2 175.9,560.6 178.1,565.2 180.4,567.4 182.7,569.7 184.9,575.3 188.3,584.4 191.7,592.3 196.3,595.7 200.8,595.7 204.2,598.0 206.4,600.2 209.8,598.0" fill="none" stroke="#151515" stroke-width="1.1" stroke-linejoin="round" stroke-dasharray="3 1.6"/>
<line x1="70.6" y1="501.7" x2="70.6" y2="615.5" stroke="#9a9a9a" stroke-width="1.1"/>
<line x1="70.1" y1="615.0" x2="216.1" y2="615.0" stroke="#9a9a9a" stroke-width="1.1"/>
<line x1="67.8" y1="601.1" x2="70.6" y2="601.1" stroke="#666" stroke-width="0.8"/>
<text x="66.1" y="603.4" font-size="6.8" font-weight="normal" text-anchor="end" fill="#333" >0</text>
<line x1="67.8" y1="575.5" x2="70.6" y2="575.5" stroke="#666" stroke-width="0.8"/>
<text x="66.1" y="577.8" font-size="6.8" font-weight="normal" text-anchor="end" fill="#333" >2</text>
<line x1="67.8" y1="549.8" x2="70.6" y2="549.8" stroke="#666" stroke-width="0.8"/>
<text x="66.1" y="552.1" font-size="6.8" font-weight="normal" text-anchor="end" fill="#333" >4</text>
<line x1="67.8" y1="524.2" x2="70.6" y2="524.2" stroke="#666" stroke-width="0.8"/>
<text x="66.1" y="526.5" font-size="6.8" font-weight="normal" text-anchor="end" fill="#333" >6</text>
<rect x="77.3" y="615.6" width="133.3" height="8" fill="url(#segGrad)"/>
<line x1="80.40" y1="615.6" x2="80.40" y2="623.6" stroke="#000" stroke-opacity="0.5" stroke-width="0.7"/>
<line x1="83.50" y1="615.6" x2="83.50" y2="623.6" stroke="#000" stroke-opacity="0.5" stroke-width="0.7"/>
<line x1="86.60" y1="615.6" x2="86.60" y2="623.6" stroke="#000" stroke-opacity="0.5" stroke-width="0.7"/>
<line x1="89.70" y1="615.6" x2="89.70" y2="623.6" stroke="#000" stroke-opacity="0.5" stroke-width="0.7"/>
<line x1="92.80" y1="615.6" x2="92.80" y2="623.6" stroke="#000" stroke-opacity="0.5" stroke-width="0.7"/>
<line x1="95.90" y1="615.6" x2="95.90" y2="623.6" stroke="#000" stroke-opacity="0.5" stroke-width="0.7"/>
<line x1="99.00" y1="615.6" x2="99.00" y2="623.6" stroke="#000" stroke-opacity="0.5" stroke-width="0.7"/>
<line x1="102.10" y1="615.6" x2="102.10" y2="623.6" stroke="#000" stroke-opacity="0.5" stroke-width="0.7"/>
<line x1="105.20" y1="615.6" x2="105.20" y2="623.6" stroke="#000" stroke-opacity="0.5" stroke-width="0.7"/>
<line x1="108.30" y1="615.6" x2="108.30" y2="623.6" stroke="#000" stroke-opacity="0.5" stroke-width="0.7"/>
<line x1="111.40" y1="615.6" x2="111.40" y2="623.6" stroke="#000" stroke-opacity="0.5" stroke-width="0.7"/>
<line x1="114.50" y1="615.6" x2="114.50" y2="623.6" stroke="#000" stroke-opacity="0.5" stroke-width="0.7"/>
<line x1="117.60" y1="615.6" x2="117.60" y2="623.6" stroke="#000" stroke-opacity="0.5" stroke-width="0.7"/>
<line x1="120.70" y1="615.6" x2="120.70" y2="623.6" stroke="#000" stroke-opacity="0.5" stroke-width="0.7"/>
<line x1="123.80" y1="615.6" x2="123.80" y2="623.6" stroke="#000" stroke-opacity="0.5" stroke-width="0.7"/>
<line x1="126.90" y1="615.6" x2="126.90" y2="623.6" stroke="#000" stroke-opacity="0.5" stroke-width="0.7"/>
<line x1="130.00" y1="615.6" x2="130.00" y2="623.6" stroke="#000" stroke-opacity="0.5" stroke-width="0.7"/>
<line x1="133.10" y1="615.6" x2="133.10" y2="623.6" stroke="#000" stroke-opacity="0.5" stroke-width="0.7"/>
<line x1="136.20" y1="615.6" x2="136.20" y2="623.6" stroke="#000" stroke-opacity="0.5" stroke-width="0.7"/>
<line x1="139.30" y1="615.6" x2="139.30" y2="623.6" stroke="#000" stroke-opacity="0.5" stroke-width="0.7"/>
<line x1="142.40" y1="615.6" x2="142.40" y2="623.6" stroke="#000" stroke-opacity="0.5" stroke-width="0.7"/>
<line x1="145.50" y1="615.6" x2="145.50" y2="623.6" stroke="#000" stroke-opacity="0.5" stroke-width="0.7"/>
<line x1="148.60" y1="615.6" x2="148.60" y2="623.6" stroke="#000" stroke-opacity="0.5" stroke-width="0.7"/>
<line x1="151.70" y1="615.6" x2="151.70" y2="623.6" stroke="#000" stroke-opacity="0.5" stroke-width="0.7"/>
<line x1="154.80" y1="615.6" x2="154.80" y2="623.6" stroke="#000" stroke-opacity="0.5" stroke-width="0.7"/>
<line x1="157.90" y1="615.6" x2="157.90" y2="623.6" stroke="#000" stroke-opacity="0.5" stroke-width="0.7"/>
<line x1="161.00" y1="615.6" x2="161.00" y2="623.6" stroke="#000" stroke-opacity="0.5" stroke-width="0.7"/>
<line x1="164.10" y1="615.6" x2="164.10" y2="623.6" stroke="#000" stroke-opacity="0.5" stroke-width="0.7"/>
<line x1="167.20" y1="615.6" x2="167.20" y2="623.6" stroke="#000" stroke-opacity="0.5" stroke-width="0.7"/>
<line x1="170.30" y1="615.6" x2="170.30" y2="623.6" stroke="#000" stroke-opacity="0.5" stroke-width="0.7"/>
<line x1="173.40" y1="615.6" x2="173.40" y2="623.6" stroke="#000" stroke-opacity="0.5" stroke-width="0.7"/>
<line x1="176.50" y1="615.6" x2="176.50" y2="623.6" stroke="#000" stroke-opacity="0.5" stroke-width="0.7"/>
<line x1="179.60" y1="615.6" x2="179.60" y2="623.6" stroke="#000" stroke-opacity="0.5" stroke-width="0.7"/>
<line x1="182.70" y1="615.6" x2="182.70" y2="623.6" stroke="#000" stroke-opacity="0.5" stroke-width="0.7"/>
<line x1="185.80" y1="615.6" x2="185.80" y2="623.6" stroke="#000" stroke-opacity="0.5" stroke-width="0.7"/>
<line x1="188.90" y1="615.6" x2="188.90" y2="623.6" stroke="#000" stroke-opacity="0.5" stroke-width="0.7"/>
<line x1="192.00" y1="615.6" x2="192.00" y2="623.6" stroke="#000" stroke-opacity="0.5" stroke-width="0.7"/>
<line x1="195.10" y1="615.6" x2="195.10" y2="623.6" stroke="#000" stroke-opacity="0.5" stroke-width="0.7"/>
<line x1="198.20" y1="615.6" x2="198.20" y2="623.6" stroke="#000" stroke-opacity="0.5" stroke-width="0.7"/>
<line x1="201.30" y1="615.6" x2="201.30" y2="623.6" stroke="#000" stroke-opacity="0.5" stroke-width="0.7"/>
<line x1="204.40" y1="615.6" x2="204.40" y2="623.6" stroke="#000" stroke-opacity="0.5" stroke-width="0.7"/>
<line x1="207.50" y1="615.6" x2="207.50" y2="623.6" stroke="#000" stroke-opacity="0.5" stroke-width="0.7"/>
<rect x="77.3" y="615.6" width="133.3" height="8" fill="none" stroke="#0a0a0a" stroke-opacity="0.75" stroke-width="0.8"/>
<polygon points="234.0,582.8 241.0,578.1 250.4,575.8 255.0,566.4 259.7,546.6 263.2,559.4 266.7,564.1 271.4,568.8 274.9,559.4 278.4,552.4 281.9,541.9 285.4,552.4 287.7,545.4 290.1,536.1 293.6,538.4 297.1,526.7 300.6,533.7 304.1,520.9 307.6,538.4 311.1,540.7 314.6,545.4 318.1,550.1 322.8,561.8 327.5,568.8 332.1,566.4 336.8,578.1 341.5,585.1 346.1,587.5 350.8,580.4 354.3,587.5 360.2,588.6 367.2,589.8 367.2,599.1 360.2,600.3 353.1,601.0 346.1,601.5 341.5,600.3 336.8,599.1 332.1,598.0 327.5,596.8 322.8,594.5 318.1,591.0 313.4,587.5 308.8,582.8 304.1,579.3 299.4,576.9 294.7,575.8 290.1,579.3 283.1,582.8 276.1,585.1 266.7,587.5 257.4,589.8 250.4,592.1 243.4,594.5 234.0,598.0" fill="#ebebed"/>
<polyline points="234.0,591.0 238.7,588.3 243.4,584.4 248.0,585.7 252.7,586.9 257.4,587.0 259.7,582.3 263.2,585.9 266.7,580.1 270.2,574.3 272.6,581.3 276.1,577.9 279.6,579.1 282.6,568.7 285.4,574.5 288.9,572.3 291.2,553.7 294.7,553.6 297.1,556.6 300.6,562.8 304.1,555.8 307.6,566.2 313.4,559.0 318.1,565.9 322.8,570.4 326.3,579.6 328.6,581.9 332.1,589.9 336.8,593.3 340.3,586.9 343.8,578.1 347.3,587.5 350.8,592.1 355.5,593.3 360.2,594.5 364.8,593.3 367.2,594.5" fill="none" stroke="#e9b841" stroke-width="1.1" stroke-linejoin="round"/>
<polyline points="234.0,589.8 238.7,587.5 243.4,583.9 248.0,585.1 252.7,586.3 257.4,586.3 259.7,581.6 263.2,585.3 266.7,579.7 270.2,574.0 272.6,581.1 276.1,577.8 279.6,579.2 282.6,568.8 285.4,574.8 288.9,572.7 291.2,554.2 294.7,554.2 297.1,557.3 300.6,563.6 304.1,557.0 307.6,568.0 313.4,561.8 318.1,568.3 322.8,572.5 326.3,581.5 328.6,583.6 332.1,591.4 336.8,594.5 340.3,586.9 343.8,576.9 347.3,586.9 350.8,592.1 355.5,593.9 360.2,595.6 364.8,594.5 367.2,595.6" fill="none" stroke="#ec5b2e" stroke-width="1.1" stroke-linejoin="round"/>
<polyline points="234.0,593.3 238.7,591.8 243.4,589.1 248.0,590.5 252.7,591.8 257.4,592.0 259.7,587.5 263.2,590.7 266.7,584.7 270.2,578.6 272.6,585.5 276.1,581.8 279.6,582.8 282.6,572.3 285.4,578.1 288.9,575.8 291.2,557.2 294.7,557.1 297.1,560.1 300.6,566.3 304.1,559.4 307.6,569.9 313.4,562.9 318.1,569.6 322.8,574.0 326.3,583.1 328.6,585.3 332.1,593.3 336.8,598.0 340.3,596.8 343.8,592.7 347.3,600.9 350.8,601.5 355.5,600.9 360.2,600.3 364.8,597.6 367.2,598.0" fill="none" stroke="#e0262b" stroke-width="1.1" stroke-linejoin="round"/>
<polyline points="234.0,592.1 238.7,589.8 243.4,586.3 248.0,587.5 252.7,588.6 257.4,588.6 259.7,583.9 263.2,587.5 266.7,581.6 270.2,575.8 272.6,582.8 276.1,579.3 279.6,580.4 282.6,569.9 285.4,575.8 288.9,573.4 291.2,554.7 294.7,554.3 297.1,557.1 300.6,562.9 304.1,555.9 307.6,566.4 313.4,559.4 318.1,566.4 322.8,571.1 326.3,580.4 328.6,582.8 332.1,591.0 336.8,594.5 340.3,589.8 343.8,582.8 347.3,589.8 350.8,592.1 355.5,593.3 360.2,594.5 364.8,593.3 367.2,594.5" fill="none" stroke="#151515" stroke-width="1.1" stroke-linejoin="round"/>
<line x1="228.2" y1="501.7" x2="228.2" y2="615.5" stroke="#9a9a9a" stroke-width="1.1"/>
<line x1="227.7" y1="615.0" x2="373.7" y2="615.0" stroke="#9a9a9a" stroke-width="1.1"/>
<line x1="225.4" y1="601.1" x2="228.2" y2="601.1" stroke="#666" stroke-width="0.8"/>
<line x1="225.4" y1="575.5" x2="228.2" y2="575.5" stroke="#666" stroke-width="0.8"/>
<line x1="225.4" y1="549.8" x2="228.2" y2="549.8" stroke="#666" stroke-width="0.8"/>
<line x1="225.4" y1="524.2" x2="228.2" y2="524.2" stroke="#666" stroke-width="0.8"/>
<rect x="234.9" y="615.6" width="133.3" height="8" fill="url(#segGrad)"/>
<line x1="238.00" y1="615.6" x2="238.00" y2="623.6" stroke="#000" stroke-opacity="0.5" stroke-width="0.7"/>
<line x1="241.10" y1="615.6" x2="241.10" y2="623.6" stroke="#000" stroke-opacity="0.5" stroke-width="0.7"/>
<line x1="244.20" y1="615.6" x2="244.20" y2="623.6" stroke="#000" stroke-opacity="0.5" stroke-width="0.7"/>
<line x1="247.30" y1="615.6" x2="247.30" y2="623.6" stroke="#000" stroke-opacity="0.5" stroke-width="0.7"/>
<line x1="250.40" y1="615.6" x2="250.40" y2="623.6" stroke="#000" stroke-opacity="0.5" stroke-width="0.7"/>
<line x1="253.50" y1="615.6" x2="253.50" y2="623.6" stroke="#000" stroke-opacity="0.5" stroke-width="0.7"/>
<line x1="256.60" y1="615.6" x2="256.60" y2="623.6" stroke="#000" stroke-opacity="0.5" stroke-width="0.7"/>
<line x1="259.70" y1="615.6" x2="259.70" y2="623.6" stroke="#000" stroke-opacity="0.5" stroke-width="0.7"/>
<line x1="262.80" y1="615.6" x2="262.80" y2="623.6" stroke="#000" stroke-opacity="0.5" stroke-width="0.7"/>
<line x1="265.90" y1="615.6" x2="265.90" y2="623.6" stroke="#000" stroke-opacity="0.5" stroke-width="0.7"/>
<line x1="269.00" y1="615.6" x2="269.00" y2="623.6" stroke="#000" stroke-opacity="0.5" stroke-width="0.7"/>
<line x1="272.10" y1="615.6" x2="272.10" y2="623.6" stroke="#000" stroke-opacity="0.5" stroke-width="0.7"/>
<line x1="275.20" y1="615.6" x2="275.20" y2="623.6" stroke="#000" stroke-opacity="0.5" stroke-width="0.7"/>
<line x1="278.30" y1="615.6" x2="278.30" y2="623.6" stroke="#000" stroke-opacity="0.5" stroke-width="0.7"/>
<line x1="281.40" y1="615.6" x2="281.40" y2="623.6" stroke="#000" stroke-opacity="0.5" stroke-width="0.7"/>
<line x1="284.50" y1="615.6" x2="284.50" y2="623.6" stroke="#000" stroke-opacity="0.5" stroke-width="0.7"/>
<line x1="287.60" y1="615.6" x2="287.60" y2="623.6" stroke="#000" stroke-opacity="0.5" stroke-width="0.7"/>
<line x1="290.70" y1="615.6" x2="290.70" y2="623.6" stroke="#000" stroke-opacity="0.5" stroke-width="0.7"/>
<line x1="293.80" y1="615.6" x2="293.80" y2="623.6" stroke="#000" stroke-opacity="0.5" stroke-width="0.7"/>
<line x1="296.90" y1="615.6" x2="296.90" y2="623.6" stroke="#000" stroke-opacity="0.5" stroke-width="0.7"/>
<line x1="300.00" y1="615.6" x2="300.00" y2="623.6" stroke="#000" stroke-opacity="0.5" stroke-width="0.7"/>
<line x1="303.10" y1="615.6" x2="303.10" y2="623.6" stroke="#000" stroke-opacity="0.5" stroke-width="0.7"/>
<line x1="306.20" y1="615.6" x2="306.20" y2="623.6" stroke="#000" stroke-opacity="0.5" stroke-width="0.7"/>
<line x1="309.30" y1="615.6" x2="309.30" y2="623.6" stroke="#000" stroke-opacity="0.5" stroke-width="0.7"/>
<line x1="312.40" y1="615.6" x2="312.40" y2="623.6" stroke="#000" stroke-opacity="0.5" stroke-width="0.7"/>
<line x1="315.50" y1="615.6" x2="315.50" y2="623.6" stroke="#000" stroke-opacity="0.5" stroke-width="0.7"/>
<line x1="318.60" y1="615.6" x2="318.60" y2="623.6" stroke="#000" stroke-opacity="0.5" stroke-width="0.7"/>
<line x1="321.70" y1="615.6" x2="321.70" y2="623.6" stroke="#000" stroke-opacity="0.5" stroke-width="0.7"/>
<line x1="324.80" y1="615.6" x2="324.80" y2="623.6" stroke="#000" stroke-opacity="0.5" stroke-width="0.7"/>
<line x1="327.90" y1="615.6" x2="327.90" y2="623.6" stroke="#000" stroke-opacity="0.5" stroke-width="0.7"/>
<line x1="331.00" y1="615.6" x2="331.00" y2="623.6" stroke="#000" stroke-opacity="0.5" stroke-width="0.7"/>
<line x1="334.10" y1="615.6" x2="334.10" y2="623.6" stroke="#000" stroke-opacity="0.5" stroke-width="0.7"/>
<line x1="337.20" y1="615.6" x2="337.20" y2="623.6" stroke="#000" stroke-opacity="0.5" stroke-width="0.7"/>
<line x1="340.30" y1="615.6" x2="340.30" y2="623.6" stroke="#000" stroke-opacity="0.5" stroke-width="0.7"/>
<line x1="343.40" y1="615.6" x2="343.40" y2="623.6" stroke="#000" stroke-opacity="0.5" stroke-width="0.7"/>
<line x1="346.50" y1="615.6" x2="346.50" y2="623.6" stroke="#000" stroke-opacity="0.5" stroke-width="0.7"/>
<line x1="349.60" y1="615.6" x2="349.60" y2="623.6" stroke="#000" stroke-opacity="0.5" stroke-width="0.7"/>
<line x1="352.70" y1="615.6" x2="352.70" y2="623.6" stroke="#000" stroke-opacity="0.5" stroke-width="0.7"/>
<line x1="355.80" y1="615.6" x2="355.80" y2="623.6" stroke="#000" stroke-opacity="0.5" stroke-width="0.7"/>
<line x1="358.90" y1="615.6" x2="358.90" y2="623.6" stroke="#000" stroke-opacity="0.5" stroke-width="0.7"/>
<line x1="362.00" y1="615.6" x2="362.00" y2="623.6" stroke="#000" stroke-opacity="0.5" stroke-width="0.7"/>
<line x1="365.10" y1="615.6" x2="365.10" y2="623.6" stroke="#000" stroke-opacity="0.5" stroke-width="0.7"/>
<rect x="234.9" y="615.6" width="133.3" height="8" fill="none" stroke="#0a0a0a" stroke-opacity="0.75" stroke-width="0.8"/>
<polygon points="391.2,578.1 398.7,576.9 408.0,573.4 412.7,561.8 416.9,546.6 419.7,559.4 424.4,564.1 429.1,566.4 433.7,557.1 437.2,547.7 440.7,543.1 445.4,533.7 450.1,526.7 454.7,530.2 458.3,536.1 461.8,520.9 465.3,538.4 468.8,541.9 472.3,543.1 475.8,550.1 480.4,559.4 485.1,568.8 488.6,568.8 492.1,578.1 496.8,582.8 501.5,585.1 506.1,585.1 509.6,579.3 513.1,587.5 517.8,589.8 524.4,589.8 524.4,598.0 515.5,599.1 506.1,600.3 496.8,599.1 487.5,598.0 482.8,596.8 478.1,594.5 473.4,592.1 468.8,587.5 464.1,582.8 459.4,578.1 454.7,575.8 450.1,576.9 443.1,582.8 436.1,588.6 426.7,589.8 417.4,591.0 408.0,593.3 398.7,595.6 391.2,598.0" fill="#ebebed"/>
<polyline points="391.2,587.5 396.4,591.4 401.0,589.5 405.7,584.2 410.4,587.0 415.0,585.1 418.5,588.3 423.2,580.8 426.7,582.8 431.4,578.9 436.1,567.6 439.6,560.6 441.9,553.3 444.2,538.7 447.7,534.3 449.6,525.7 450.8,518.3 452.4,525.9 454.7,528.7 457.1,532.6 459.4,543.1 461.8,553.6 465.3,560.9 468.8,560.6 473.4,555.9 475.8,565.0 478.1,575.2 481.6,575.3 483.9,574.6 486.3,586.3 488.6,595.6 492.1,597.2 495.6,603.6 499.1,602.6 503.8,605.0 508.5,601.5 513.1,600.9 517.8,598.5 521.3,599.7 524.4,595.6" fill="none" stroke="#e9b841" stroke-width="1.1" stroke-linejoin="round" stroke-dasharray="3 1.6"/>
<polyline points="391.2,582.8 396.4,586.9 401.0,585.3 405.7,580.2 410.4,583.2 415.0,581.6 418.5,585.1 423.2,578.1 426.7,580.4 431.4,576.2 436.1,564.9 439.6,558.2 441.9,551.1 444.2,536.8 447.7,532.8 449.6,524.4 450.8,517.4 452.4,525.6 454.7,529.1 457.1,533.7 459.4,543.1 461.8,552.4 465.3,558.5 468.8,558.3 473.4,553.6 475.8,562.9 478.1,573.4 481.6,574.0 483.9,573.5 486.3,585.4 488.6,594.9 492.1,596.4 495.6,602.5 499.1,601.1 503.8,602.6 508.5,599.1 513.1,598.7 517.8,596.8 521.3,598.5 524.4,595.6" fill="none" stroke="#ec5b2e" stroke-width="1.1" stroke-linejoin="round" stroke-dasharray="3 1.6"/>
<polyline points="391.2,578.1 396.4,582.8 401.0,581.6 405.7,576.9 410.4,580.4 415.0,579.3 418.5,582.8 423.2,575.8 426.7,578.1 431.4,573.4 436.1,561.8 439.6,554.7 441.9,547.7 444.2,533.7 447.7,530.2 449.6,522.0 450.8,515.0 452.4,523.2 454.7,526.7 457.1,531.4 459.4,540.7 461.8,550.1 465.3,555.9 468.8,554.7 473.4,548.9 475.8,559.4 478.1,571.1 481.6,573.4 483.9,573.4 486.3,585.1 488.6,594.5 492.1,595.6 495.6,601.5 499.1,599.1 503.8,599.1 508.5,595.6 513.1,595.6 517.8,594.5 521.3,596.8 524.4,594.5" fill="none" stroke="#151515" stroke-width="1.1" stroke-linejoin="round" stroke-dasharray="3 1.6"/>
<line x1="384.7" y1="501.7" x2="384.7" y2="615.5" stroke="#9a9a9a" stroke-width="1.1"/>
<line x1="384.2" y1="615.0" x2="530.2" y2="615.0" stroke="#9a9a9a" stroke-width="1.1"/>
<line x1="381.9" y1="601.1" x2="384.7" y2="601.1" stroke="#666" stroke-width="0.8"/>
<line x1="381.9" y1="575.5" x2="384.7" y2="575.5" stroke="#666" stroke-width="0.8"/>
<line x1="381.9" y1="549.8" x2="384.7" y2="549.8" stroke="#666" stroke-width="0.8"/>
<line x1="381.9" y1="524.2" x2="384.7" y2="524.2" stroke="#666" stroke-width="0.8"/>
<rect x="391.4" y="615.6" width="133.3" height="8" fill="url(#segGrad)"/>
<line x1="394.50" y1="615.6" x2="394.50" y2="623.6" stroke="#000" stroke-opacity="0.5" stroke-width="0.7"/>
<line x1="397.60" y1="615.6" x2="397.60" y2="623.6" stroke="#000" stroke-opacity="0.5" stroke-width="0.7"/>
<line x1="400.70" y1="615.6" x2="400.70" y2="623.6" stroke="#000" stroke-opacity="0.5" stroke-width="0.7"/>
<line x1="403.80" y1="615.6" x2="403.80" y2="623.6" stroke="#000" stroke-opacity="0.5" stroke-width="0.7"/>
<line x1="406.90" y1="615.6" x2="406.90" y2="623.6" stroke="#000" stroke-opacity="0.5" stroke-width="0.7"/>
<line x1="410.00" y1="615.6" x2="410.00" y2="623.6" stroke="#000" stroke-opacity="0.5" stroke-width="0.7"/>
<line x1="413.10" y1="615.6" x2="413.10" y2="623.6" stroke="#000" stroke-opacity="0.5" stroke-width="0.7"/>
<line x1="416.20" y1="615.6" x2="416.20" y2="623.6" stroke="#000" stroke-opacity="0.5" stroke-width="0.7"/>
<line x1="419.30" y1="615.6" x2="419.30" y2="623.6" stroke="#000" stroke-opacity="0.5" stroke-width="0.7"/>
<line x1="422.40" y1="615.6" x2="422.40" y2="623.6" stroke="#000" stroke-opacity="0.5" stroke-width="0.7"/>
<line x1="425.50" y1="615.6" x2="425.50" y2="623.6" stroke="#000" stroke-opacity="0.5" stroke-width="0.7"/>
<line x1="428.60" y1="615.6" x2="428.60" y2="623.6" stroke="#000" stroke-opacity="0.5" stroke-width="0.7"/>
<line x1="431.70" y1="615.6" x2="431.70" y2="623.6" stroke="#000" stroke-opacity="0.5" stroke-width="0.7"/>
<line x1="434.80" y1="615.6" x2="434.80" y2="623.6" stroke="#000" stroke-opacity="0.5" stroke-width="0.7"/>
<line x1="437.90" y1="615.6" x2="437.90" y2="623.6" stroke="#000" stroke-opacity="0.5" stroke-width="0.7"/>
<line x1="441.00" y1="615.6" x2="441.00" y2="623.6" stroke="#000" stroke-opacity="0.5" stroke-width="0.7"/>
<line x1="444.10" y1="615.6" x2="444.10" y2="623.6" stroke="#000" stroke-opacity="0.5" stroke-width="0.7"/>
<line x1="447.20" y1="615.6" x2="447.20" y2="623.6" stroke="#000" stroke-opacity="0.5" stroke-width="0.7"/>
<line x1="450.30" y1="615.6" x2="450.30" y2="623.6" stroke="#000" stroke-opacity="0.5" stroke-width="0.7"/>
<line x1="453.40" y1="615.6" x2="453.40" y2="623.6" stroke="#000" stroke-opacity="0.5" stroke-width="0.7"/>
<line x1="456.50" y1="615.6" x2="456.50" y2="623.6" stroke="#000" stroke-opacity="0.5" stroke-width="0.7"/>
<line x1="459.60" y1="615.6" x2="459.60" y2="623.6" stroke="#000" stroke-opacity="0.5" stroke-width="0.7"/>
<line x1="462.70" y1="615.6" x2="462.70" y2="623.6" stroke="#000" stroke-opacity="0.5" stroke-width="0.7"/>
<line x1="465.80" y1="615.6" x2="465.80" y2="623.6" stroke="#000" stroke-opacity="0.5" stroke-width="0.7"/>
<line x1="468.90" y1="615.6" x2="468.90" y2="623.6" stroke="#000" stroke-opacity="0.5" stroke-width="0.7"/>
<line x1="472.00" y1="615.6" x2="472.00" y2="623.6" stroke="#000" stroke-opacity="0.5" stroke-width="0.7"/>
<line x1="475.10" y1="615.6" x2="475.10" y2="623.6" stroke="#000" stroke-opacity="0.5" stroke-width="0.7"/>
<line x1="478.20" y1="615.6" x2="478.20" y2="623.6" stroke="#000" stroke-opacity="0.5" stroke-width="0.7"/>
<line x1="481.30" y1="615.6" x2="481.30" y2="623.6" stroke="#000" stroke-opacity="0.5" stroke-width="0.7"/>
<line x1="484.40" y1="615.6" x2="484.40" y2="623.6" stroke="#000" stroke-opacity="0.5" stroke-width="0.7"/>
<line x1="487.50" y1="615.6" x2="487.50" y2="623.6" stroke="#000" stroke-opacity="0.5" stroke-width="0.7"/>
<line x1="490.60" y1="615.6" x2="490.60" y2="623.6" stroke="#000" stroke-opacity="0.5" stroke-width="0.7"/>
<line x1="493.70" y1="615.6" x2="493.70" y2="623.6" stroke="#000" stroke-opacity="0.5" stroke-width="0.7"/>
<line x1="496.80" y1="615.6" x2="496.80" y2="623.6" stroke="#000" stroke-opacity="0.5" stroke-width="0.7"/>
<line x1="499.90" y1="615.6" x2="499.90" y2="623.6" stroke="#000" stroke-opacity="0.5" stroke-width="0.7"/>
<line x1="503.00" y1="615.6" x2="503.00" y2="623.6" stroke="#000" stroke-opacity="0.5" stroke-width="0.7"/>
<line x1="506.10" y1="615.6" x2="506.10" y2="623.6" stroke="#000" stroke-opacity="0.5" stroke-width="0.7"/>
<line x1="509.20" y1="615.6" x2="509.20" y2="623.6" stroke="#000" stroke-opacity="0.5" stroke-width="0.7"/>
<line x1="512.30" y1="615.6" x2="512.30" y2="623.6" stroke="#000" stroke-opacity="0.5" stroke-width="0.7"/>
<line x1="515.40" y1="615.6" x2="515.40" y2="623.6" stroke="#000" stroke-opacity="0.5" stroke-width="0.7"/>
<line x1="518.50" y1="615.6" x2="518.50" y2="623.6" stroke="#000" stroke-opacity="0.5" stroke-width="0.7"/>
<line x1="521.60" y1="615.6" x2="521.60" y2="623.6" stroke="#000" stroke-opacity="0.5" stroke-width="0.7"/>
<rect x="391.4" y="615.6" width="133.3" height="8" fill="none" stroke="#0a0a0a" stroke-opacity="0.75" stroke-width="0.8"/>
<polygon points="77.4,706.0 83.1,703.7 89.9,702.6 96.7,696.9 100.1,683.4 102.8,672.0 105.3,685.6 108.0,692.4 112.5,690.2 117.0,685.6 119.3,676.6 121.6,685.6 125.0,674.3 128.4,681.1 132.9,669.8 136.3,678.8 139.7,674.3 143.1,672.0 146.5,665.3 148.3,660.7 150.5,672.0 153.3,676.6 156.6,676.6 160.0,681.1 164.6,681.1 168.0,678.8 171.4,683.4 174.8,687.9 176.3,684.5 178.1,694.7 182.7,699.2 187.2,703.7 191.7,706.0 196.3,710.5 200.8,715.0 205.3,716.2 209.8,717.3 209.8,726.4 200.8,726.4 191.7,726.4 182.7,726.4 178.1,724.1 173.6,721.8 169.1,719.6 164.6,715.0 160.0,710.5 155.5,706.0 146.5,708.3 139.7,709.4 132.9,710.5 128.4,711.6 121.6,712.8 114.8,713.9 110.3,716.2 103.5,717.3 96.7,719.6 89.9,723.0 83.1,724.1 77.4,726.4" fill="#ebebed"/>
<polyline points="77.4,712.8 79.7,716.2 82.0,717.3 84.2,714.4 87.6,715.0 92.2,715.7 95.5,715.0 98.9,712.8 102.3,708.3 105.7,712.8 109.1,702.6 111.4,697.7 113.7,684.6 115.9,694.0 117.5,698.1 120.4,698.1 122.7,699.2 125.0,692.4 128.4,696.9 131.8,699.2 134.0,686.7 137.0,692.3 139.7,680.9 143.1,686.5 145.3,688.7 147.6,680.7 150.5,687.4 153.3,680.5 156.6,679.3 158.9,688.5 162.3,691.1 165.7,694.8 170.2,697.4 173.6,704.5 176.3,699.1 179.3,705.6 181.5,697.9 184.9,706.8 187.2,701.5 190.6,706.4 195.1,709.2 198.5,713.0 201.5,709.9 204.2,715.8 207.1,723.9 209.8,720.7" fill="none" stroke="#e9b841" stroke-width="1.1" stroke-linejoin="round"/>
<polyline points="77.4,712.8 79.7,716.1 82.0,717.2 84.2,714.1 87.6,714.7 92.2,715.2 95.5,714.4 98.9,712.0 102.3,707.4 105.7,711.8 109.1,701.5 111.4,696.9 113.7,684.5 115.9,694.7 117.5,699.2 120.4,699.1 122.7,700.1 125.0,693.2 128.4,697.6 131.8,699.7 134.0,687.1 137.0,692.5 139.7,681.0 143.1,686.3 145.3,688.4 147.6,680.3 150.5,686.8 153.3,679.8 156.6,678.4 158.9,687.8 162.3,690.6 165.7,694.5 170.2,697.6 173.6,705.1 176.3,700.0 179.3,706.6 181.5,698.9 184.9,707.6 187.2,702.1 190.6,707.4 195.1,710.5 198.5,714.6 201.5,711.2 204.2,714.9 207.1,720.7 209.8,719.6" fill="none" stroke="#ec5b2e" stroke-width="1.1" stroke-linejoin="round"/>
<polyline points="77.4,712.8 79.7,716.3 82.0,717.6 84.2,714.8 87.6,715.7 92.2,716.5 95.5,715.9 98.9,713.7 102.3,709.2 105.7,713.8 109.1,703.7 111.4,699.4 113.7,687.3 115.9,697.8 117.5,702.6 120.4,702.4 122.7,703.3 125.0,696.4 128.4,700.7 131.8,702.7 134.0,690.2 137.0,695.8 139.7,684.5 143.1,690.2 145.3,692.4 147.6,684.5 150.5,691.3 153.3,684.5 156.6,683.4 158.9,692.4 162.3,694.7 165.7,698.1 170.2,700.3 173.6,707.1 176.3,701.5 179.3,708.2 181.5,701.2 184.9,711.1 187.2,706.4 190.6,710.6 195.1,713.6 198.5,717.9 201.5,714.4 204.2,717.7 207.1,723.0 209.8,720.7" fill="none" stroke="#e0262b" stroke-width="1.1" stroke-linejoin="round"/>
<polyline points="77.4,711.6 79.7,715.0 82.0,716.2 84.2,713.2 87.6,713.9 92.2,714.6 95.5,713.9 98.9,711.6 102.3,707.1 105.7,711.6 109.1,701.5 111.4,696.9 113.7,684.5 115.9,694.7 117.5,699.2 120.4,699.2 122.7,700.3 125.0,693.5 128.4,698.1 131.8,700.3 134.0,687.9 137.0,693.5 139.7,682.2 143.1,687.9 145.3,690.2 147.6,682.2 150.5,689.0 153.3,682.2 156.6,681.1 158.9,690.2 162.3,692.4 165.7,695.8 170.2,698.1 173.6,704.9 176.3,699.2 179.3,706.0 181.5,699.2 184.9,709.4 187.2,704.9 190.6,709.4 195.1,711.6 198.5,715.0 201.5,711.6 204.2,717.3 207.1,725.2 209.8,721.8" fill="none" stroke="#151515" stroke-width="1.1" stroke-linejoin="round"/>
<line x1="70.6" y1="626.0" x2="70.6" y2="740.1" stroke="#9a9a9a" stroke-width="1.1"/>
<line x1="70.1" y1="739.6" x2="216.1" y2="739.6" stroke="#9a9a9a" stroke-width="1.1"/>
<line x1="67.8" y1="726.1" x2="70.6" y2="726.1" stroke="#666" stroke-width="0.8"/>
<text x="66.1" y="728.4" font-size="6.8" font-weight="normal" text-anchor="end" fill="#333" >0</text>
<line x1="67.8" y1="700.5" x2="70.6" y2="700.5" stroke="#666" stroke-width="0.8"/>
<text x="66.1" y="702.8" font-size="6.8" font-weight="normal" text-anchor="end" fill="#333" >2</text>
<line x1="67.8" y1="674.8" x2="70.6" y2="674.8" stroke="#666" stroke-width="0.8"/>
<text x="66.1" y="677.1" font-size="6.8" font-weight="normal" text-anchor="end" fill="#333" >4</text>
<line x1="67.8" y1="649.2" x2="70.6" y2="649.2" stroke="#666" stroke-width="0.8"/>
<text x="66.1" y="651.5" font-size="6.8" font-weight="normal" text-anchor="end" fill="#333" >6</text>
<rect x="77.3" y="740.2" width="133.3" height="8" fill="url(#segGrad)"/>
<line x1="80.40" y1="740.2" x2="80.40" y2="748.2" stroke="#000" stroke-opacity="0.5" stroke-width="0.7"/>
<line x1="83.50" y1="740.2" x2="83.50" y2="748.2" stroke="#000" stroke-opacity="0.5" stroke-width="0.7"/>
<line x1="86.60" y1="740.2" x2="86.60" y2="748.2" stroke="#000" stroke-opacity="0.5" stroke-width="0.7"/>
<line x1="89.70" y1="740.2" x2="89.70" y2="748.2" stroke="#000" stroke-opacity="0.5" stroke-width="0.7"/>
<line x1="92.80" y1="740.2" x2="92.80" y2="748.2" stroke="#000" stroke-opacity="0.5" stroke-width="0.7"/>
<line x1="95.90" y1="740.2" x2="95.90" y2="748.2" stroke="#000" stroke-opacity="0.5" stroke-width="0.7"/>
<line x1="99.00" y1="740.2" x2="99.00" y2="748.2" stroke="#000" stroke-opacity="0.5" stroke-width="0.7"/>
<line x1="102.10" y1="740.2" x2="102.10" y2="748.2" stroke="#000" stroke-opacity="0.5" stroke-width="0.7"/>
<line x1="105.20" y1="740.2" x2="105.20" y2="748.2" stroke="#000" stroke-opacity="0.5" stroke-width="0.7"/>
<line x1="108.30" y1="740.2" x2="108.30" y2="748.2" stroke="#000" stroke-opacity="0.5" stroke-width="0.7"/>
<line x1="111.40" y1="740.2" x2="111.40" y2="748.2" stroke="#000" stroke-opacity="0.5" stroke-width="0.7"/>
<line x1="114.50" y1="740.2" x2="114.50" y2="748.2" stroke="#000" stroke-opacity="0.5" stroke-width="0.7"/>
<line x1="117.60" y1="740.2" x2="117.60" y2="748.2" stroke="#000" stroke-opacity="0.5" stroke-width="0.7"/>
<line x1="120.70" y1="740.2" x2="120.70" y2="748.2" stroke="#000" stroke-opacity="0.5" stroke-width="0.7"/>
<line x1="123.80" y1="740.2" x2="123.80" y2="748.2" stroke="#000" stroke-opacity="0.5" stroke-width="0.7"/>
<line x1="126.90" y1="740.2" x2="126.90" y2="748.2" stroke="#000" stroke-opacity="0.5" stroke-width="0.7"/>
<line x1="130.00" y1="740.2" x2="130.00" y2="748.2" stroke="#000" stroke-opacity="0.5" stroke-width="0.7"/>
<line x1="133.10" y1="740.2" x2="133.10" y2="748.2" stroke="#000" stroke-opacity="0.5" stroke-width="0.7"/>
<line x1="136.20" y1="740.2" x2="136.20" y2="748.2" stroke="#000" stroke-opacity="0.5" stroke-width="0.7"/>
<line x1="139.30" y1="740.2" x2="139.30" y2="748.2" stroke="#000" stroke-opacity="0.5" stroke-width="0.7"/>
<line x1="142.40" y1="740.2" x2="142.40" y2="748.2" stroke="#000" stroke-opacity="0.5" stroke-width="0.7"/>
<line x1="145.50" y1="740.2" x2="145.50" y2="748.2" stroke="#000" stroke-opacity="0.5" stroke-width="0.7"/>
<line x1="148.60" y1="740.2" x2="148.60" y2="748.2" stroke="#000" stroke-opacity="0.5" stroke-width="0.7"/>
<line x1="151.70" y1="740.2" x2="151.70" y2="748.2" stroke="#000" stroke-opacity="0.5" stroke-width="0.7"/>
<line x1="154.80" y1="740.2" x2="154.80" y2="748.2" stroke="#000" stroke-opacity="0.5" stroke-width="0.7"/>
<line x1="157.90" y1="740.2" x2="157.90" y2="748.2" stroke="#000" stroke-opacity="0.5" stroke-width="0.7"/>
<line x1="161.00" y1="740.2" x2="161.00" y2="748.2" stroke="#000" stroke-opacity="0.5" stroke-width="0.7"/>
<line x1="164.10" y1="740.2" x2="164.10" y2="748.2" stroke="#000" stroke-opacity="0.5" stroke-width="0.7"/>
<line x1="167.20" y1="740.2" x2="167.20" y2="748.2" stroke="#000" stroke-opacity="0.5" stroke-width="0.7"/>
<line x1="170.30" y1="740.2" x2="170.30" y2="748.2" stroke="#000" stroke-opacity="0.5" stroke-width="0.7"/>
<line x1="173.40" y1="740.2" x2="173.40" y2="748.2" stroke="#000" stroke-opacity="0.5" stroke-width="0.7"/>
<line x1="176.50" y1="740.2" x2="176.50" y2="748.2" stroke="#000" stroke-opacity="0.5" stroke-width="0.7"/>
<line x1="179.60" y1="740.2" x2="179.60" y2="748.2" stroke="#000" stroke-opacity="0.5" stroke-width="0.7"/>
<line x1="182.70" y1="740.2" x2="182.70" y2="748.2" stroke="#000" stroke-opacity="0.5" stroke-width="0.7"/>
<line x1="185.80" y1="740.2" x2="185.80" y2="748.2" stroke="#000" stroke-opacity="0.5" stroke-width="0.7"/>
<line x1="188.90" y1="740.2" x2="188.90" y2="748.2" stroke="#000" stroke-opacity="0.5" stroke-width="0.7"/>
<line x1="192.00" y1="740.2" x2="192.00" y2="748.2" stroke="#000" stroke-opacity="0.5" stroke-width="0.7"/>
<line x1="195.10" y1="740.2" x2="195.10" y2="748.2" stroke="#000" stroke-opacity="0.5" stroke-width="0.7"/>
<line x1="198.20" y1="740.2" x2="198.20" y2="748.2" stroke="#000" stroke-opacity="0.5" stroke-width="0.7"/>
<line x1="201.30" y1="740.2" x2="201.30" y2="748.2" stroke="#000" stroke-opacity="0.5" stroke-width="0.7"/>
<line x1="204.40" y1="740.2" x2="204.40" y2="748.2" stroke="#000" stroke-opacity="0.5" stroke-width="0.7"/>
<line x1="207.50" y1="740.2" x2="207.50" y2="748.2" stroke="#000" stroke-opacity="0.5" stroke-width="0.7"/>
<rect x="77.3" y="740.2" width="133.3" height="8" fill="none" stroke="#0a0a0a" stroke-opacity="0.75" stroke-width="0.8"/>
<polygon points="234.0,708.8 238.7,704.1 243.4,704.1 250.4,699.4 255.0,690.1 259.7,672.6 263.2,687.7 266.7,690.1 271.4,687.7 276.1,681.9 279.6,687.7 281.9,676.1 285.4,685.4 290.1,670.2 293.6,680.7 297.1,676.1 300.6,676.1 304.1,666.7 307.6,676.1 311.1,678.4 315.8,685.4 320.4,683.1 323.9,679.6 327.5,683.1 331.0,694.7 333.3,686.6 335.6,694.7 339.1,704.1 343.8,711.1 348.5,713.4 353.1,712.3 357.8,715.8 362.5,718.1 367.2,718.1 367.2,725.6 360.2,726.3 350.8,727.5 341.5,727.5 336.8,725.1 332.1,722.8 327.5,722.8 322.8,718.1 318.1,713.4 313.4,708.8 304.1,707.6 294.7,711.1 285.4,712.3 276.1,713.4 266.7,715.8 257.4,718.1 250.4,720.4 243.4,722.8 238.7,722.8 234.0,725.1" fill="#ebebed"/>
<polyline points="234.0,723.9 237.5,717.2 241.0,709.3 244.5,704.8 248.0,707.4 251.5,711.2 255.0,703.3 259.7,691.9 263.2,703.8 266.7,695.9 270.2,687.7 273.7,691.2 277.2,684.2 280.3,708.8 283.1,698.3 286.6,686.6 290.1,691.2 293.6,694.1 295.9,682.8 299.4,681.0 302.9,680.4 305.3,664.4 307.6,680.7 309.9,684.2 313.4,678.4 315.8,691.0 319.3,697.5 322.8,699.4 326.3,700.2 329.8,707.9 332.1,713.4 334.5,714.6 339.1,716.9 343.8,719.3 348.5,720.4 353.1,716.9 357.8,718.9 362.5,720.8 367.2,719.3" fill="none" stroke="#e9b841" stroke-width="1.1" stroke-linejoin="round" stroke-dasharray="3 1.6"/>
<polyline points="234.0,725.1 237.5,718.4 241.0,710.4 244.5,706.0 248.0,708.6 251.5,712.4 255.0,704.4 259.7,693.1 263.2,705.0 266.7,697.1 270.2,690.5 273.7,695.5 277.2,690.1 280.3,713.8 283.1,702.5 286.6,689.9 290.1,693.6 293.6,696.7 295.9,685.6 299.4,684.1 302.9,683.7 305.3,667.9 307.6,684.2 309.9,687.7 313.4,681.9 315.8,694.0 319.3,699.8 322.8,701.5 326.3,702.3 329.8,710.2 332.1,715.8 334.5,716.7 339.1,718.6 343.8,720.4 348.5,721.6 353.1,718.1 357.8,720.4 362.5,722.8 367.2,721.6" fill="none" stroke="#ec5b2e" stroke-width="1.1" stroke-linejoin="round" stroke-dasharray="3 1.6"/>
<polyline points="234.0,726.3 237.5,719.5 241.0,711.6 244.5,707.2 248.0,709.8 251.5,713.5 255.0,705.6 259.7,694.2 263.2,706.2 266.7,698.3 270.2,693.1 273.7,699.7 277.2,691.8 280.3,704.1 283.1,700.7 286.6,690.2 290.1,695.9 293.6,699.6 295.9,688.8 299.4,687.7 302.9,686.6 305.3,670.2 307.6,686.9 309.9,690.7 313.4,685.4 315.8,697.1 319.3,702.3 322.8,703.9 326.3,704.7 329.8,712.5 332.1,718.1 334.5,718.6 339.1,719.5 343.8,720.4 348.5,722.2 353.1,719.3 357.8,722.8 362.5,725.9 367.2,725.1" fill="none" stroke="#e0262b" stroke-width="1.1" stroke-linejoin="round" stroke-dasharray="3 1.6"/>
<polyline points="234.0,725.1 237.5,718.1 241.0,709.9 244.5,705.3 248.0,707.6 251.5,711.1 255.0,702.9 259.7,691.2 263.2,702.9 266.7,694.7 270.2,686.6 273.7,690.1 277.2,683.1 280.3,707.6 283.1,697.1 286.6,685.4 290.1,690.1 293.6,692.4 295.9,680.7 299.4,678.4 302.9,677.2 305.3,660.9 307.6,677.2 309.9,680.7 313.4,674.9 315.8,687.7 319.3,694.7 322.8,697.1 326.3,698.3 329.8,706.4 332.1,712.3 334.5,713.4 339.1,715.8 343.8,718.1 348.5,716.9 353.1,711.1 357.8,714.6 362.5,718.1 367.2,718.1" fill="none" stroke="#151515" stroke-width="1.1" stroke-linejoin="round" stroke-dasharray="3 1.6"/>
<line x1="228.2" y1="626.0" x2="228.2" y2="740.1" stroke="#9a9a9a" stroke-width="1.1"/>
<line x1="227.7" y1="739.6" x2="373.7" y2="739.6" stroke="#9a9a9a" stroke-width="1.1"/>
<line x1="225.4" y1="726.1" x2="228.2" y2="726.1" stroke="#666" stroke-width="0.8"/>
<line x1="225.4" y1="700.5" x2="228.2" y2="700.5" stroke="#666" stroke-width="0.8"/>
<line x1="225.4" y1="674.8" x2="228.2" y2="674.8" stroke="#666" stroke-width="0.8"/>
<line x1="225.4" y1="649.2" x2="228.2" y2="649.2" stroke="#666" stroke-width="0.8"/>
<rect x="234.9" y="740.2" width="133.3" height="8" fill="url(#segGrad)"/>
<line x1="238.00" y1="740.2" x2="238.00" y2="748.2" stroke="#000" stroke-opacity="0.5" stroke-width="0.7"/>
<line x1="241.10" y1="740.2" x2="241.10" y2="748.2" stroke="#000" stroke-opacity="0.5" stroke-width="0.7"/>
<line x1="244.20" y1="740.2" x2="244.20" y2="748.2" stroke="#000" stroke-opacity="0.5" stroke-width="0.7"/>
<line x1="247.30" y1="740.2" x2="247.30" y2="748.2" stroke="#000" stroke-opacity="0.5" stroke-width="0.7"/>
<line x1="250.40" y1="740.2" x2="250.40" y2="748.2" stroke="#000" stroke-opacity="0.5" stroke-width="0.7"/>
<line x1="253.50" y1="740.2" x2="253.50" y2="748.2" stroke="#000" stroke-opacity="0.5" stroke-width="0.7"/>
<line x1="256.60" y1="740.2" x2="256.60" y2="748.2" stroke="#000" stroke-opacity="0.5" stroke-width="0.7"/>
<line x1="259.70" y1="740.2" x2="259.70" y2="748.2" stroke="#000" stroke-opacity="0.5" stroke-width="0.7"/>
<line x1="262.80" y1="740.2" x2="262.80" y2="748.2" stroke="#000" stroke-opacity="0.5" stroke-width="0.7"/>
<line x1="265.90" y1="740.2" x2="265.90" y2="748.2" stroke="#000" stroke-opacity="0.5" stroke-width="0.7"/>
<line x1="269.00" y1="740.2" x2="269.00" y2="748.2" stroke="#000" stroke-opacity="0.5" stroke-width="0.7"/>
<line x1="272.10" y1="740.2" x2="272.10" y2="748.2" stroke="#000" stroke-opacity="0.5" stroke-width="0.7"/>
<line x1="275.20" y1="740.2" x2="275.20" y2="748.2" stroke="#000" stroke-opacity="0.5" stroke-width="0.7"/>
<line x1="278.30" y1="740.2" x2="278.30" y2="748.2" stroke="#000" stroke-opacity="0.5" stroke-width="0.7"/>
<line x1="281.40" y1="740.2" x2="281.40" y2="748.2" stroke="#000" stroke-opacity="0.5" stroke-width="0.7"/>
<line x1="284.50" y1="740.2" x2="284.50" y2="748.2" stroke="#000" stroke-opacity="0.5" stroke-width="0.7"/>
<line x1="287.60" y1="740.2" x2="287.60" y2="748.2" stroke="#000" stroke-opacity="0.5" stroke-width="0.7"/>
<line x1="290.70" y1="740.2" x2="290.70" y2="748.2" stroke="#000" stroke-opacity="0.5" stroke-width="0.7"/>
<line x1="293.80" y1="740.2" x2="293.80" y2="748.2" stroke="#000" stroke-opacity="0.5" stroke-width="0.7"/>
<line x1="296.90" y1="740.2" x2="296.90" y2="748.2" stroke="#000" stroke-opacity="0.5" stroke-width="0.7"/>
<line x1="300.00" y1="740.2" x2="300.00" y2="748.2" stroke="#000" stroke-opacity="0.5" stroke-width="0.7"/>
<line x1="303.10" y1="740.2" x2="303.10" y2="748.2" stroke="#000" stroke-opacity="0.5" stroke-width="0.7"/>
<line x1="306.20" y1="740.2" x2="306.20" y2="748.2" stroke="#000" stroke-opacity="0.5" stroke-width="0.7"/>
<line x1="309.30" y1="740.2" x2="309.30" y2="748.2" stroke="#000" stroke-opacity="0.5" stroke-width="0.7"/>
<line x1="312.40" y1="740.2" x2="312.40" y2="748.2" stroke="#000" stroke-opacity="0.5" stroke-width="0.7"/>
<line x1="315.50" y1="740.2" x2="315.50" y2="748.2" stroke="#000" stroke-opacity="0.5" stroke-width="0.7"/>
<line x1="318.60" y1="740.2" x2="318.60" y2="748.2" stroke="#000" stroke-opacity="0.5" stroke-width="0.7"/>
<line x1="321.70" y1="740.2" x2="321.70" y2="748.2" stroke="#000" stroke-opacity="0.5" stroke-width="0.7"/>
<line x1="324.80" y1="740.2" x2="324.80" y2="748.2" stroke="#000" stroke-opacity="0.5" stroke-width="0.7"/>
<line x1="327.90" y1="740.2" x2="327.90" y2="748.2" stroke="#000" stroke-opacity="0.5" stroke-width="0.7"/>
<line x1="331.00" y1="740.2" x2="331.00" y2="748.2" stroke="#000" stroke-opacity="0.5" stroke-width="0.7"/>
<line x1="334.10" y1="740.2" x2="334.10" y2="748.2" stroke="#000" stroke-opacity="0.5" stroke-width="0.7"/>
<line x1="337.20" y1="740.2" x2="337.20" y2="748.2" stroke="#000" stroke-opacity="0.5" stroke-width="0.7"/>
<line x1="340.30" y1="740.2" x2="340.30" y2="748.2" stroke="#000" stroke-opacity="0.5" stroke-width="0.7"/>
<line x1="343.40" y1="740.2" x2="343.40" y2="748.2" stroke="#000" stroke-opacity="0.5" stroke-width="0.7"/>
<line x1="346.50" y1="740.2" x2="346.50" y2="748.2" stroke="#000" stroke-opacity="0.5" stroke-width="0.7"/>
<line x1="349.60" y1="740.2" x2="349.60" y2="748.2" stroke="#000" stroke-opacity="0.5" stroke-width="0.7"/>
<line x1="352.70" y1="740.2" x2="352.70" y2="748.2" stroke="#000" stroke-opacity="0.5" stroke-width="0.7"/>
<line x1="355.80" y1="740.2" x2="355.80" y2="748.2" stroke="#000" stroke-opacity="0.5" stroke-width="0.7"/>
<line x1="358.90" y1="740.2" x2="358.90" y2="748.2" stroke="#000" stroke-opacity="0.5" stroke-width="0.7"/>
<line x1="362.00" y1="740.2" x2="362.00" y2="748.2" stroke="#000" stroke-opacity="0.5" stroke-width="0.7"/>
<line x1="365.10" y1="740.2" x2="365.10" y2="748.2" stroke="#000" stroke-opacity="0.5" stroke-width="0.7"/>
<rect x="234.9" y="740.2" width="133.3" height="8" fill="none" stroke="#0a0a0a" stroke-opacity="0.75" stroke-width="0.8"/>
<polygon points="391.2,706.4 398.7,702.9 405.7,700.6 412.7,690.1 416.9,672.6 419.7,687.7 424.4,687.7 429.1,683.1 433.7,677.2 437.2,683.1 440.7,676.1 444.2,678.4 447.7,673.7 452.4,677.2 457.1,673.7 461.8,660.9 465.3,676.1 468.8,677.2 472.3,680.7 476.9,683.1 481.6,679.6 485.1,685.4 488.6,686.6 492.1,697.1 495.6,706.4 499.1,709.9 503.8,712.3 508.5,708.8 512.0,713.4 517.8,715.8 524.4,718.1 524.4,722.8 520.2,723.9 510.8,725.1 501.5,725.1 492.1,722.8 487.5,720.4 482.8,718.1 478.1,713.4 473.4,711.1 468.8,708.8 464.1,707.6 454.7,709.9 445.4,712.3 436.1,713.4 426.7,715.8 417.4,718.1 408.0,720.4 398.7,723.9 391.2,726.3" fill="#ebebed"/>
<polyline points="391.2,711.1 395.2,713.4 398.7,713.7 403.4,709.9 408.0,710.5 412.7,702.9 416.9,695.1 419.7,701.2 423.2,700.3 426.7,707.6 431.4,714.1 434.9,706.8 437.2,705.4 440.3,695.7 443.1,697.8 445.4,697.6 448.2,670.4 450.5,680.7 453.6,676.1 457.1,685.4 459.4,684.2 462.2,673.7 465.3,683.1 467.6,686.6 471.1,685.4 473.4,695.9 475.8,708.8 478.1,716.9 482.8,721.6 487.5,722.8 492.1,722.8 496.8,723.4 501.5,723.9 506.1,723.7 510.8,723.5 515.5,722.0 520.2,721.6 524.4,720.4" fill="none" stroke="#e9b841" stroke-width="1.1" stroke-linejoin="round"/>
<polyline points="391.2,709.9 395.2,712.9 398.7,714.0 403.4,711.1 408.0,710.5 412.7,701.8 416.9,693.6 419.7,699.4 423.2,698.3 426.7,705.3 431.4,711.8 434.9,704.4 437.2,703.0 440.3,693.4 443.1,695.6 445.4,695.4 448.2,668.4 450.5,678.9 453.6,674.3 457.1,683.8 459.4,682.7 462.2,672.2 465.3,681.7 467.6,685.2 471.1,684.2 473.4,694.7 475.8,707.6 478.1,715.8 482.8,720.4 487.5,721.6 492.1,721.6 496.8,722.5 501.5,723.5 506.1,723.1 510.8,722.8 515.5,721.5 520.2,721.4 524.4,720.4" fill="none" stroke="#ec5b2e" stroke-width="1.1" stroke-linejoin="round"/>
<polyline points="391.2,706.4 395.2,708.3 398.7,708.3 403.4,704.1 408.0,706.4 412.7,700.6 416.9,692.4 419.7,698.3 423.2,697.1 426.7,704.1 431.4,711.1 434.9,704.1 437.2,702.9 440.3,693.6 443.1,695.9 445.4,695.9 448.2,669.1 450.5,679.6 453.6,674.9 457.1,684.2 459.4,683.1 462.2,672.6 465.3,681.9 467.6,685.4 471.1,684.2 473.4,694.7 475.8,707.6 478.1,715.8 482.8,720.4 487.5,722.8 492.1,723.9 496.8,726.3 501.5,728.6 506.1,727.5 510.8,726.3 515.5,723.9 520.2,722.8 524.4,720.9" fill="none" stroke="#151515" stroke-width="1.1" stroke-linejoin="round"/>
<line x1="384.7" y1="626.0" x2="384.7" y2="740.1" stroke="#9a9a9a" stroke-width="1.1"/>
<line x1="384.2" y1="739.6" x2="530.2" y2="739.6" stroke="#9a9a9a" stroke-width="1.1"/>
<line x1="381.9" y1="726.1" x2="384.7" y2="726.1" stroke="#666" stroke-width="0.8"/>
<line x1="381.9" y1="700.5" x2="384.7" y2="700.5" stroke="#666" stroke-width="0.8"/>
<line x1="381.9" y1="674.8" x2="384.7" y2="674.8" stroke="#666" stroke-width="0.8"/>
<line x1="381.9" y1="649.2" x2="384.7" y2="649.2" stroke="#666" stroke-width="0.8"/>
<rect x="391.4" y="740.2" width="133.3" height="8" fill="url(#segGrad)"/>
<line x1="394.50" y1="740.2" x2="394.50" y2="748.2" stroke="#000" stroke-opacity="0.5" stroke-width="0.7"/>
<line x1="397.60" y1="740.2" x2="397.60" y2="748.2" stroke="#000" stroke-opacity="0.5" stroke-width="0.7"/>
<line x1="400.70" y1="740.2" x2="400.70" y2="748.2" stroke="#000" stroke-opacity="0.5" stroke-width="0.7"/>
<line x1="403.80" y1="740.2" x2="403.80" y2="748.2" stroke="#000" stroke-opacity="0.5" stroke-width="0.7"/>
<line x1="406.90" y1="740.2" x2="406.90" y2="748.2" stroke="#000" stroke-opacity="0.5" stroke-width="0.7"/>
<line x1="410.00" y1="740.2" x2="410.00" y2="748.2" stroke="#000" stroke-opacity="0.5" stroke-width="0.7"/>
<line x1="413.10" y1="740.2" x2="413.10" y2="748.2" stroke="#000" stroke-opacity="0.5" stroke-width="0.7"/>
<line x1="416.20" y1="740.2" x2="416.20" y2="748.2" stroke="#000" stroke-opacity="0.5" stroke-width="0.7"/>
<line x1="419.30" y1="740.2" x2="419.30" y2="748.2" stroke="#000" stroke-opacity="0.5" stroke-width="0.7"/>
<line x1="422.40" y1="740.2" x2="422.40" y2="748.2" stroke="#000" stroke-opacity="0.5" stroke-width="0.7"/>
<line x1="425.50" y1="740.2" x2="425.50" y2="748.2" stroke="#000" stroke-opacity="0.5" stroke-width="0.7"/>
<line x1="428.60" y1="740.2" x2="428.60" y2="748.2" stroke="#000" stroke-opacity="0.5" stroke-width="0.7"/>
<line x1="431.70" y1="740.2" x2="431.70" y2="748.2" stroke="#000" stroke-opacity="0.5" stroke-width="0.7"/>
<line x1="434.80" y1="740.2" x2="434.80" y2="748.2" stroke="#000" stroke-opacity="0.5" stroke-width="0.7"/>
<line x1="437.90" y1="740.2" x2="437.90" y2="748.2" stroke="#000" stroke-opacity="0.5" stroke-width="0.7"/>
<line x1="441.00" y1="740.2" x2="441.00" y2="748.2" stroke="#000" stroke-opacity="0.5" stroke-width="0.7"/>
<line x1="444.10" y1="740.2" x2="444.10" y2="748.2" stroke="#000" stroke-opacity="0.5" stroke-width="0.7"/>
<line x1="447.20" y1="740.2" x2="447.20" y2="748.2" stroke="#000" stroke-opacity="0.5" stroke-width="0.7"/>
<line x1="450.30" y1="740.2" x2="450.30" y2="748.2" stroke="#000" stroke-opacity="0.5" stroke-width="0.7"/>
<line x1="453.40" y1="740.2" x2="453.40" y2="748.2" stroke="#000" stroke-opacity="0.5" stroke-width="0.7"/>
<line x1="456.50" y1="740.2" x2="456.50" y2="748.2" stroke="#000" stroke-opacity="0.5" stroke-width="0.7"/>
<line x1="459.60" y1="740.2" x2="459.60" y2="748.2" stroke="#000" stroke-opacity="0.5" stroke-width="0.7"/>
<line x1="462.70" y1="740.2" x2="462.70" y2="748.2" stroke="#000" stroke-opacity="0.5" stroke-width="0.7"/>
<line x1="465.80" y1="740.2" x2="465.80" y2="748.2" stroke="#000" stroke-opacity="0.5" stroke-width="0.7"/>
<line x1="468.90" y1="740.2" x2="468.90" y2="748.2" stroke="#000" stroke-opacity="0.5" stroke-width="0.7"/>
<line x1="472.00" y1="740.2" x2="472.00" y2="748.2" stroke="#000" stroke-opacity="0.5" stroke-width="0.7"/>
<line x1="475.10" y1="740.2" x2="475.10" y2="748.2" stroke="#000" stroke-opacity="0.5" stroke-width="0.7"/>
<line x1="478.20" y1="740.2" x2="478.20" y2="748.2" stroke="#000" stroke-opacity="0.5" stroke-width="0.7"/>
<line x1="481.30" y1="740.2" x2="481.30" y2="748.2" stroke="#000" stroke-opacity="0.5" stroke-width="0.7"/>
<line x1="484.40" y1="740.2" x2="484.40" y2="748.2" stroke="#000" stroke-opacity="0.5" stroke-width="0.7"/>
<line x1="487.50" y1="740.2" x2="487.50" y2="748.2" stroke="#000" stroke-opacity="0.5" stroke-width="0.7"/>
<line x1="490.60" y1="740.2" x2="490.60" y2="748.2" stroke="#000" stroke-opacity="0.5" stroke-width="0.7"/>
<line x1="493.70" y1="740.2" x2="493.70" y2="748.2" stroke="#000" stroke-opacity="0.5" stroke-width="0.7"/>
<line x1="496.80" y1="740.2" x2="496.80" y2="748.2" stroke="#000" stroke-opacity="0.5" stroke-width="0.7"/>
<line x1="499.90" y1="740.2" x2="499.90" y2="748.2" stroke="#000" stroke-opacity="0.5" stroke-width="0.7"/>
<line x1="503.00" y1="740.2" x2="503.00" y2="748.2" stroke="#000" stroke-opacity="0.5" stroke-width="0.7"/>
<line x1="506.10" y1="740.2" x2="506.10" y2="748.2" stroke="#000" stroke-opacity="0.5" stroke-width="0.7"/>
<line x1="509.20" y1="740.2" x2="509.20" y2="748.2" stroke="#000" stroke-opacity="0.5" stroke-width="0.7"/>
<line x1="512.30" y1="740.2" x2="512.30" y2="748.2" stroke="#000" stroke-opacity="0.5" stroke-width="0.7"/>
<line x1="515.40" y1="740.2" x2="515.40" y2="748.2" stroke="#000" stroke-opacity="0.5" stroke-width="0.7"/>
<line x1="518.50" y1="740.2" x2="518.50" y2="748.2" stroke="#000" stroke-opacity="0.5" stroke-width="0.7"/>
<line x1="521.60" y1="740.2" x2="521.60" y2="748.2" stroke="#000" stroke-opacity="0.5" stroke-width="0.7"/>
<rect x="391.4" y="740.2" width="133.3" height="8" fill="none" stroke="#0a0a0a" stroke-opacity="0.75" stroke-width="0.8"/>
<text x="0" y="0" font-size="10.8" font-weight="normal" text-anchor="middle" fill="#1a1a1a" transform="translate(47.3,554.0) rotate(-90)" textLength="57.9" lengthAdjust="spacingAndGlyphs">LEFT HAND</text>
<text x="0" y="0" font-size="8.6" font-weight="normal" text-anchor="middle" fill="#222" transform="translate(58.6,558.3) rotate(-90)" textLength="78.8" lengthAdjust="spacingAndGlyphs">Crossnobis Distance</text>
<text x="0" y="0" font-size="10.8" font-weight="normal" text-anchor="middle" fill="#1a1a1a" transform="translate(47.3,669.0) rotate(-90)" textLength="65.7" lengthAdjust="spacingAndGlyphs">RIGHT HAND</text>
<text x="0" y="0" font-size="8.6" font-weight="normal" text-anchor="middle" fill="#222" transform="translate(58.6,683.3) rotate(-90)" textLength="78.8" lengthAdjust="spacingAndGlyphs">Crossnobis Distance</text>
<text x="142.4" y="761.3" font-size="10" font-weight="bold" text-anchor="middle" fill="#111" textLength="62.3" lengthAdjust="spacingAndGlyphs" >S1 Segments</text>
<text x="142.4" y="771.6" font-size="9" font-weight="normal" text-anchor="middle" fill="#333" textLength="69.0" lengthAdjust="spacingAndGlyphs" >Lateral to Medial</text>
<text x="298.8" y="761.5" font-size="10" font-weight="bold" text-anchor="middle" fill="#111" textLength="62.3" lengthAdjust="spacingAndGlyphs" >S1 Segments</text>
<text x="298.8" y="772.0" font-size="9" font-weight="normal" text-anchor="middle" fill="#333" textLength="69.0" lengthAdjust="spacingAndGlyphs" >Lateral to Medial</text>
<text x="453.5" y="758.3" font-size="10" font-weight="bold" text-anchor="middle" fill="#111" textLength="62.3" lengthAdjust="spacingAndGlyphs" >S1 Segments</text>
<text x="453.5" y="768.5" font-size="9" font-weight="normal" text-anchor="middle" fill="#333" textLength="69.0" lengthAdjust="spacingAndGlyphs" >Lateral to Medial</text>
<rect x="543.8" y="475.5" width="125.6" height="292.8" rx="16" fill="#000" opacity="0.5" transform="translate(-1.5,2)" filter="url(#blur2)"/>
<rect x="543.8" y="475.5" width="125.6" height="292.8" rx="16" fill="#fff" stroke="#d6d6d6" stroke-width="0.8"/>
<text x="555.1" y="491.4" font-size="11.3" font-weight="bold" text-anchor="start" fill="#111" stroke="#111" stroke-width="0.3" stroke-linejoin="round" textLength="105.8" lengthAdjust="spacingAndGlyphs" >Somatosensory</text>
<text x="555.0" y="502.6" font-size="11.3" font-weight="bold" text-anchor="start" fill="#111" stroke="#111" stroke-width="0.3" stroke-linejoin="round" textLength="70.1" lengthAdjust="spacingAndGlyphs" >Cortex (S1)</text>
<text x="554.7" y="511.6" font-size="8" font-weight="normal" text-anchor="start" fill="#333" textLength="85.0" lengthAdjust="spacingAndGlyphs" >Brodmann Area 3b</text>
<path d="M552.6,553 C552,546 556,538 562,534 C570,528 580,524 590,521.8 C602,519.5 615,519 625,519.8 C635,521 641,527 646,533 C651,539.5 656,545 661,548.5 C665,551 667,556 666.5,561 C666,568 663,574 658,578 C652,581.5 642,582.5 632,583.5 C620,585 608,586.5 598,586.3 C591,586 587.5,583 587.5,579 C587.5,575 590,572.5 590.5,571.9 C585,569.5 575,566.5 566,564 C559,562 553,559 552.6,553 Z" fill="#000" opacity="0.45" transform="translate(-1.5,3)" filter="url(#blur3)"/>
<path d="M552.6,553 C552,546 556,538 562,534 C570,528 580,524 590,521.8 C602,519.5 615,519 625,519.8 C635,521 641,527 646,533 C651,539.5 656,545 661,548.5 C665,551 667,556 666.5,561 C666,568 663,574 658,578 C652,581.5 642,582.5 632,583.5 C620,585 608,586.5 598,586.3 C591,586 587.5,583 587.5,579 C587.5,575 590,572.5 590.5,571.9 C585,569.5 575,566.5 566,564 C559,562 553,559 552.6,553 Z" fill="#8d8d8d"/>
<g clip-path="url(#clipBrainB)"><g transform="rotate(-10 610 555)"><rect x="530" y="490" width="170" height="130" filter="url(#texB)"/></g></g>
<g clip-path="url(#clipBrainB)"><path d="M584,560 C598,557.5 615,557 630,558.5 C640,560 648,563 655,567" fill="none" stroke="#707070" stroke-width="2.4" opacity="0.5" filter="url(#blur05)"/></g>
<g clip-path="url(#clipBrainB)"><path d="M552.6,553 C552,546 556,538 562,534 C570,528 580,524 590,521.8 C602,519.5 615,519 625,519.8 C635,521 641,527 646,533 C651,539.5 656,545 661,548.5 C665,551 667,556 666.5,561 C666,568 663,574 658,578 C652,581.5 642,582.5 632,583.5 C620,585 608,586.5 598,586.3 C591,586 587.5,583 587.5,579 C587.5,575 590,572.5 590.5,571.9 C585,569.5 575,566.5 566,564 C559,562 553,559 552.6,553 Z" fill="none" stroke="#2a2a2a" stroke-width="6" opacity="0.55" filter="url(#blur2)"/></g>
<defs><linearGradient id="stripG" x1="0" y1="0" x2="0" y2="1"><stop offset="0" stop-color="#55cc50"/><stop offset="0.55" stop-color="#3fa83c"/><stop offset="0.8" stop-color="#245f24"/><stop offset="1" stop-color="#173d17"/></linearGradient></defs>
<path d="M630.8,521.3 L634.6,523.2 L627.5,534.5 L619.8,545 L613,553.2 L608.6,556.4 L609.8,551.5 L615.2,543 L622.5,532.5 Z" fill="url(#stripG)" stroke="#2a5a2a" stroke-width="0.3"/>
<text x="576.6" y="604.0" font-size="11.3" font-weight="bold" text-anchor="start" fill="#111" stroke="#111" stroke-width="0.3" stroke-linejoin="round" textLength="66.8" lengthAdjust="spacingAndGlyphs" >Segments</text>
<rect x="565.0" y="607.3" width="89.8" height="6.3" fill="url(#segGrad)"/>
<line x1="567.64" y1="607.3" x2="567.64" y2="613.6" stroke="#000" stroke-opacity="0.28" stroke-width="0.5"/>
<line x1="570.28" y1="607.3" x2="570.28" y2="613.6" stroke="#000" stroke-opacity="0.28" stroke-width="0.5"/>
<line x1="572.92" y1="607.3" x2="572.92" y2="613.6" stroke="#000" stroke-opacity="0.28" stroke-width="0.5"/>
<line x1="575.56" y1="607.3" x2="575.56" y2="613.6" stroke="#000" stroke-opacity="0.28" stroke-width="0.5"/>
<line x1="578.21" y1="607.3" x2="578.21" y2="613.6" stroke="#000" stroke-opacity="0.28" stroke-width="0.5"/>
<line x1="580.85" y1="607.3" x2="580.85" y2="613.6" stroke="#000" stroke-opacity="0.28" stroke-width="0.5"/>
<line x1="583.49" y1="607.3" x2="583.49" y2="613.6" stroke="#000" stroke-opacity="0.28" stroke-width="0.5"/>
<line x1="586.13" y1="607.3" x2="586.13" y2="613.6" stroke="#000" stroke-opacity="0.28" stroke-width="0.5"/>
<line x1="588.77" y1="607.3" x2="588.77" y2="613.6" stroke="#000" stroke-opacity="0.28" stroke-width="0.5"/>
<line x1="591.41" y1="607.3" x2="591.41" y2="613.6" stroke="#000" stroke-opacity="0.28" stroke-width="0.5"/>
<line x1="594.05" y1="607.3" x2="594.05" y2="613.6" stroke="#000" stroke-opacity="0.28" stroke-width="0.5"/>
<line x1="596.69" y1="607.3" x2="596.69" y2="613.6" stroke="#000" stroke-opacity="0.28" stroke-width="0.5"/>
<line x1="599.34" y1="607.3" x2="599.34" y2="613.6" stroke="#000" stroke-opacity="0.28" stroke-width="0.5"/>
<line x1="601.98" y1="607.3" x2="601.98" y2="613.6" stroke="#000" stroke-opacity="0.28" stroke-width="0.5"/>
<line x1="604.62" y1="607.3" x2="604.62" y2="613.6" stroke="#000" stroke-opacity="0.28" stroke-width="0.5"/>
<line x1="607.26" y1="607.3" x2="607.26" y2="613.6" stroke="#000" stroke-opacity="0.28" stroke-width="0.5"/>
<line x1="609.90" y1="607.3" x2="609.90" y2="613.6" stroke="#000" stroke-opacity="0.28" stroke-width="0.5"/>
<line x1="612.54" y1="607.3" x2="612.54" y2="613.6" stroke="#000" stroke-opacity="0.28" stroke-width="0.5"/>
<line x1="615.18" y1="607.3" x2="615.18" y2="613.6" stroke="#000" stroke-opacity="0.28" stroke-width="0.5"/>
<line x1="617.82" y1="607.3" x2="617.82" y2="613.6" stroke="#000" stroke-opacity="0.28" stroke-width="0.5"/>
<line x1="620.46" y1="607.3" x2="620.46" y2="613.6" stroke="#000" stroke-opacity="0.28" stroke-width="0.5"/>
<line x1="623.11" y1="607.3" x2="623.11" y2="613.6" stroke="#000" stroke-opacity="0.28" stroke-width="0.5"/>
<line x1="625.75" y1="607.3" x2="625.75" y2="613.6" stroke="#000" stroke-opacity="0.28" stroke-width="0.5"/>
<line x1="628.39" y1="607.3" x2="628.39" y2="613.6" stroke="#000" stroke-opacity="0.28" stroke-width="0.5"/>
<line x1="631.03" y1="607.3" x2="631.03" y2="613.6" stroke="#000" stroke-opacity="0.28" stroke-width="0.5"/>
<line x1="633.67" y1="607.3" x2="633.67" y2="613.6" stroke="#000" stroke-opacity="0.28" stroke-width="0.5"/>
<line x1="636.31" y1="607.3" x2="636.31" y2="613.6" stroke="#000" stroke-opacity="0.28" stroke-width="0.5"/>
<line x1="638.95" y1="607.3" x2="638.95" y2="613.6" stroke="#000" stroke-opacity="0.28" stroke-width="0.5"/>
<line x1="641.59" y1="607.3" x2="641.59" y2="613.6" stroke="#000" stroke-opacity="0.28" stroke-width="0.5"/>
<line x1="644.24" y1="607.3" x2="644.24" y2="613.6" stroke="#000" stroke-opacity="0.28" stroke-width="0.5"/>
<line x1="646.88" y1="607.3" x2="646.88" y2="613.6" stroke="#000" stroke-opacity="0.28" stroke-width="0.5"/>
<line x1="649.52" y1="607.3" x2="649.52" y2="613.6" stroke="#000" stroke-opacity="0.28" stroke-width="0.5"/>
<line x1="652.16" y1="607.3" x2="652.16" y2="613.6" stroke="#000" stroke-opacity="0.28" stroke-width="0.5"/>
<text x="554.3" y="622.7" font-size="8.5" font-weight="normal" text-anchor="start" fill="#222" textLength="30.7" lengthAdjust="spacingAndGlyphs" >Lateral</text>
<text x="660.5" y="622.7" font-size="8.5" font-weight="normal" text-anchor="end" fill="#222" textLength="30.0" lengthAdjust="spacingAndGlyphs" >Medial</text>
<text x="556.6" y="636.8" font-size="6.2" font-weight="normal" text-anchor="start" fill="#222" textLength="104.4" lengthAdjust="spacingAndGlyphs" >*Hand region outlined in white</text>
<text x="554.3" y="651.0" font-size="7.6" font-weight="bold" text-anchor="start" fill="#111" textLength="107.7" lengthAdjust="spacingAndGlyphs" >Cross-Validation Partitions</text>
<rect x="553.8" y="655.6" width="9.6" height="10.0" fill="#0b0b10"/>
<rect x="553.8" y="665.4" width="9.6" height="9.2" fill="#ebb53f"/>
<rect x="553.8" y="674.4" width="9.6" height="9.3" fill="#ec5a2e"/>
<rect x="553.8" y="683.5" width="9.6" height="9.3" fill="#e3262b"/>
<text x="565.6" y="663.1" font-size="7.6" font-weight="normal" text-anchor="start" fill="#1a1a1a" textLength="80.7" lengthAdjust="spacingAndGlyphs" >Baseline (Pre1 - Pre2)</text>
<text x="565.6" y="672.2" font-size="7.6" font-weight="normal" text-anchor="start" fill="#1a1a1a" textLength="57.3" lengthAdjust="spacingAndGlyphs" >Pre - Post (3m)</text>
<text x="565.6" y="681.2" font-size="7.6" font-weight="normal" text-anchor="start" fill="#1a1a1a" textLength="57.5" lengthAdjust="spacingAndGlyphs" >Pre - Post (6m)</text>
<text x="565.6" y="690.3" font-size="7.6" font-weight="normal" text-anchor="start" fill="#1a1a1a" textLength="72.5" lengthAdjust="spacingAndGlyphs" >Pre - Post (1.5/5yrs)</text>
<text x="557.2" y="702.6" font-size="7.6" font-weight="bold" text-anchor="start" fill="#111" textLength="21.5" lengthAdjust="spacingAndGlyphs" >Hand</text>
<text x="581.5" y="702.6" font-size="5.3" font-weight="normal" text-anchor="start" fill="#444" textLength="68.8" lengthAdjust="spacingAndGlyphs" >(in contralateral hemi)</text>
<line x1="557" y1="710.5" x2="565" y2="710.5" stroke="#111" stroke-width="1.6"/>
<text x="568.6" y="711.9" font-size="7.6" font-weight="normal" text-anchor="start" fill="#1a1a1a" textLength="43.0" lengthAdjust="spacingAndGlyphs" >Unaffected</text>
<line x1="557" y1="718" x2="565" y2="718" stroke="#111" stroke-width="1.3" stroke-dasharray="1 0.7"/>
<text x="567.9" y="719.8" font-size="7.6" font-weight="normal" text-anchor="start" fill="#1a1a1a" textLength="33.0" lengthAdjust="spacingAndGlyphs" >Affected</text>
<path d="M552,745.2 L552.2,738 L553.2,733.9 L556.6,730.5 L560,732.7 L562.2,736.1 L564.5,733.9 L566.8,736.1 L569,735 L571.3,737.3 L574.7,739.5 L577,745.2 Z" fill="#e2e2e2" filter="url(#blur05)"/>
<text x="581.0" y="732.0" font-size="7.6" font-weight="normal" text-anchor="start" fill="#1a1a1a" textLength="50.5" lengthAdjust="spacingAndGlyphs" >Able-Bodied</text>
<text x="581.0" y="739.3" font-size="7.6" font-weight="normal" text-anchor="start" fill="#1a1a1a" textLength="51.5" lengthAdjust="spacingAndGlyphs" >Controls 95%</text>
<text x="581.0" y="746.6" font-size="7.6" font-weight="normal" text-anchor="start" fill="#1a1a1a" textLength="71.7" lengthAdjust="spacingAndGlyphs" >Percentile Interval</text>
<text x="581.0" y="753.8" font-size="7.6" font-weight="normal" text-anchor="start" fill="#1a1a1a" textLength="54.5" lengthAdjust="spacingAndGlyphs" >Pre-Post (6m)</text>
</svg>
</body></html>
